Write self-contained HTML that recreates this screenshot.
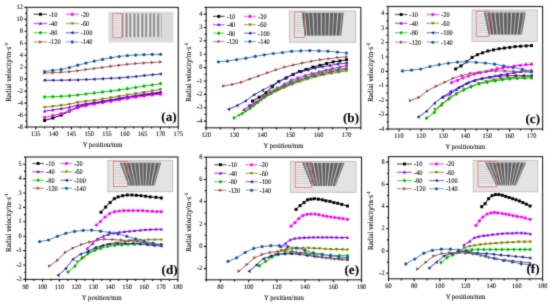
<!DOCTYPE html>
<html><head><meta charset="utf-8"><style>
html,body{margin:0;padding:0;background:#fff;width:550px;height:306px;overflow:hidden}
svg{display:block}
text{text-rendering:geometricPrecision;font-family:"Liberation Serif",serif;fill:#000;stroke:#000;stroke-width:0.08px}
</style></head><body>
<svg width="550" height="306" viewBox="0 0 550 306">
<defs><filter id="bl" x="0" y="0" width="550" height="306" filterUnits="userSpaceOnUse" primitiveUnits="userSpaceOnUse" color-interpolation-filters="sRGB"><feConvolveMatrix order="3" kernelMatrix="1 5 1 5 25 5 1 5 1" divisor="49" edgeMode="duplicate"/></filter></defs>
<rect width="550" height="306" fill="#fff"/>
<g filter="url(#bl)">
<rect x="108.50" y="12.00" width="65.00" height="30.30" fill="#dadada" stroke="#ececec" stroke-width="0.8"/>
<rect x="112.90" y="13.60" width="9.00" height="23.40" fill="#ececec"/>
<path d="M122.00,13.60L161.60,13.60L161.60,37.00L122.00,37.00Z" fill="#a2a2a2"/>
<path d="M122.00,12.00H161.60V13.60H122.00Z" fill="#d4d4d4"/>
<path d="M124.38,13.60L124.38,37.00" stroke="#f6f6f6" stroke-width="1.5"/>
<path d="M128.34,13.60L128.34,37.00" stroke="#f6f6f6" stroke-width="1.125"/>
<path d="M132.30,13.60L132.30,37.00" stroke="#f6f6f6" stroke-width="1.5"/>
<path d="M136.26,13.60L136.26,37.00" stroke="#f6f6f6" stroke-width="1.125"/>
<path d="M140.22,13.60L140.22,37.00" stroke="#f6f6f6" stroke-width="1.5"/>
<path d="M144.18,13.60L144.18,37.00" stroke="#f6f6f6" stroke-width="1.125"/>
<path d="M148.14,13.60L148.14,37.00" stroke="#f6f6f6" stroke-width="1.5"/>
<path d="M152.10,13.60L152.10,37.00" stroke="#f6f6f6" stroke-width="1.125"/>
<path d="M156.06,13.60L156.06,37.00" stroke="#f6f6f6" stroke-width="1.5"/>
<path d="M160.02,13.60L160.02,37.00" stroke="#f6f6f6" stroke-width="1.125"/>
<path d="M122.59,13.60L122.59,37.00" stroke="#777777" stroke-width="0.5"/>
<path d="M126.55,13.60L126.55,37.00" stroke="#777777" stroke-width="0.5"/>
<path d="M130.51,13.60L130.51,37.00" stroke="#777777" stroke-width="0.5"/>
<path d="M134.47,13.60L134.47,37.00" stroke="#777777" stroke-width="0.5"/>
<path d="M138.43,13.60L138.43,37.00" stroke="#777777" stroke-width="0.5"/>
<path d="M142.39,13.60L142.39,37.00" stroke="#777777" stroke-width="0.5"/>
<path d="M146.35,13.60L146.35,37.00" stroke="#777777" stroke-width="0.5"/>
<path d="M150.31,13.60L150.31,37.00" stroke="#777777" stroke-width="0.5"/>
<path d="M154.27,13.60L154.27,37.00" stroke="#777777" stroke-width="0.5"/>
<path d="M158.23,13.60L158.23,37.00" stroke="#777777" stroke-width="0.5"/>
<path d="M113.90,15.94H120.40" stroke="#b0b0b0" stroke-width="0.6"/>
<path d="M113.90,18.28H120.40" stroke="#b0b0b0" stroke-width="0.6"/>
<path d="M113.90,20.62H120.40" stroke="#b0b0b0" stroke-width="0.6"/>
<path d="M113.90,22.96H120.40" stroke="#b0b0b0" stroke-width="0.6"/>
<path d="M113.90,25.30H120.40" stroke="#b0b0b0" stroke-width="0.6"/>
<path d="M113.90,27.64H120.40" stroke="#b0b0b0" stroke-width="0.6"/>
<path d="M113.90,29.98H120.40" stroke="#b0b0b0" stroke-width="0.6"/>
<path d="M113.90,32.32H120.40" stroke="#b0b0b0" stroke-width="0.6"/>
<path d="M113.90,34.66H120.40" stroke="#b0b0b0" stroke-width="0.6"/>
<rect x="112.90" y="13.40" width="9.00" height="24.20" fill="none" stroke="#e86060" stroke-width="0.7"/>
<path d="M44.60,120.50L52.88,118.00L61.16,115.10L69.44,111.00L77.72,106.80L86.00,104.50L94.28,103.00L102.56,101.80L110.84,100.40L119.12,99.00L127.40,97.60L135.68,96.30L143.96,95.10L152.24,94.00L160.52,93.00" stroke="#000000" stroke-width="1.0" fill="none" stroke-linejoin="round"/>
<rect x="43.13" y="119.03" width="2.94" height="2.94" fill="#000000"/>
<rect x="51.41" y="116.53" width="2.94" height="2.94" fill="#000000"/>
<rect x="59.69" y="113.63" width="2.94" height="2.94" fill="#000000"/>
<rect x="67.97" y="109.53" width="2.94" height="2.94" fill="#000000"/>
<rect x="76.25" y="105.33" width="2.94" height="2.94" fill="#000000"/>
<rect x="84.53" y="103.03" width="2.94" height="2.94" fill="#000000"/>
<rect x="92.81" y="101.53" width="2.94" height="2.94" fill="#000000"/>
<rect x="101.09" y="100.33" width="2.94" height="2.94" fill="#000000"/>
<rect x="109.37" y="98.93" width="2.94" height="2.94" fill="#000000"/>
<rect x="117.65" y="97.53" width="2.94" height="2.94" fill="#000000"/>
<rect x="125.93" y="96.13" width="2.94" height="2.94" fill="#000000"/>
<rect x="134.21" y="94.83" width="2.94" height="2.94" fill="#000000"/>
<rect x="142.49" y="93.63" width="2.94" height="2.94" fill="#000000"/>
<rect x="150.77" y="92.53" width="2.94" height="2.94" fill="#000000"/>
<rect x="159.05" y="91.53" width="2.94" height="2.94" fill="#000000"/>
<path d="M44.60,117.40L52.88,115.60L61.16,113.60L69.44,111.00L77.72,107.80L86.00,105.70L94.28,104.00L102.56,102.60L110.84,101.30L119.12,99.80L127.40,98.40L135.68,97.20L143.96,95.90L152.24,94.90L160.52,94.20" stroke="#ff00ff" stroke-width="1.0" fill="none" stroke-linejoin="round"/>
<circle cx="44.60" cy="117.40" r="1.60" fill="#ff00ff"/>
<circle cx="52.88" cy="115.60" r="1.60" fill="#ff00ff"/>
<circle cx="61.16" cy="113.60" r="1.60" fill="#ff00ff"/>
<circle cx="69.44" cy="111.00" r="1.60" fill="#ff00ff"/>
<circle cx="77.72" cy="107.80" r="1.60" fill="#ff00ff"/>
<circle cx="86.00" cy="105.70" r="1.60" fill="#ff00ff"/>
<circle cx="94.28" cy="104.00" r="1.60" fill="#ff00ff"/>
<circle cx="102.56" cy="102.60" r="1.60" fill="#ff00ff"/>
<circle cx="110.84" cy="101.30" r="1.60" fill="#ff00ff"/>
<circle cx="119.12" cy="99.80" r="1.60" fill="#ff00ff"/>
<circle cx="127.40" cy="98.40" r="1.60" fill="#ff00ff"/>
<circle cx="135.68" cy="97.20" r="1.60" fill="#ff00ff"/>
<circle cx="143.96" cy="95.90" r="1.60" fill="#ff00ff"/>
<circle cx="152.24" cy="94.90" r="1.60" fill="#ff00ff"/>
<circle cx="160.52" cy="94.20" r="1.60" fill="#ff00ff"/>
<path d="M44.60,111.20L52.88,109.90L61.16,108.70L69.44,107.30L77.72,105.10L86.00,103.80L94.28,102.70L102.56,101.20L110.84,99.80L119.12,98.20L127.40,96.80L135.68,95.50L143.96,94.20L152.24,93.20L160.52,92.00" stroke="#8000ff" stroke-width="1.0" fill="none" stroke-linejoin="round"/>
<path d="M44.60,109.44L46.36,112.48L42.84,112.48Z" fill="#8000ff"/>
<path d="M52.88,108.14L54.64,111.18L51.12,111.18Z" fill="#8000ff"/>
<path d="M61.16,106.94L62.92,109.98L59.40,109.98Z" fill="#8000ff"/>
<path d="M69.44,105.54L71.20,108.58L67.68,108.58Z" fill="#8000ff"/>
<path d="M77.72,103.34L79.48,106.38L75.96,106.38Z" fill="#8000ff"/>
<path d="M86.00,102.04L87.76,105.08L84.24,105.08Z" fill="#8000ff"/>
<path d="M94.28,100.94L96.04,103.98L92.52,103.98Z" fill="#8000ff"/>
<path d="M102.56,99.44L104.32,102.48L100.80,102.48Z" fill="#8000ff"/>
<path d="M110.84,98.04L112.60,101.08L109.08,101.08Z" fill="#8000ff"/>
<path d="M119.12,96.44L120.88,99.48L117.36,99.48Z" fill="#8000ff"/>
<path d="M127.40,95.04L129.16,98.08L125.64,98.08Z" fill="#8000ff"/>
<path d="M135.68,93.74L137.44,96.78L133.92,96.78Z" fill="#8000ff"/>
<path d="M143.96,92.44L145.72,95.48L142.20,95.48Z" fill="#8000ff"/>
<path d="M152.24,91.44L154.00,94.48L150.48,94.48Z" fill="#8000ff"/>
<path d="M160.52,90.24L162.28,93.28L158.76,93.28Z" fill="#8000ff"/>
<path d="M44.60,107.30L52.88,106.30L61.16,105.40L69.44,104.20L77.72,102.40L86.00,101.30L94.28,100.40L102.56,99.00L110.84,97.60L119.12,96.20L127.40,94.90L135.68,93.60L143.96,92.30L152.24,90.90L160.52,89.40" stroke="#808000" stroke-width="1.0" fill="none" stroke-linejoin="round"/>
<path d="M44.60,109.06L46.36,106.02L42.84,106.02Z" fill="#808000"/>
<path d="M52.88,108.06L54.64,105.02L51.12,105.02Z" fill="#808000"/>
<path d="M61.16,107.16L62.92,104.12L59.40,104.12Z" fill="#808000"/>
<path d="M69.44,105.96L71.20,102.92L67.68,102.92Z" fill="#808000"/>
<path d="M77.72,104.16L79.48,101.12L75.96,101.12Z" fill="#808000"/>
<path d="M86.00,103.06L87.76,100.02L84.24,100.02Z" fill="#808000"/>
<path d="M94.28,102.16L96.04,99.12L92.52,99.12Z" fill="#808000"/>
<path d="M102.56,100.76L104.32,97.72L100.80,97.72Z" fill="#808000"/>
<path d="M110.84,99.36L112.60,96.32L109.08,96.32Z" fill="#808000"/>
<path d="M119.12,97.96L120.88,94.92L117.36,94.92Z" fill="#808000"/>
<path d="M127.40,96.66L129.16,93.62L125.64,93.62Z" fill="#808000"/>
<path d="M135.68,95.36L137.44,92.32L133.92,92.32Z" fill="#808000"/>
<path d="M143.96,94.06L145.72,91.02L142.20,91.02Z" fill="#808000"/>
<path d="M152.24,92.66L154.00,89.62L150.48,89.62Z" fill="#808000"/>
<path d="M160.52,91.16L162.28,88.12L158.76,88.12Z" fill="#808000"/>
<path d="M44.60,97.00L52.88,96.70L61.16,96.30L69.44,95.80L77.72,95.00L86.00,94.00L94.28,93.00L102.56,92.00L110.84,91.10L119.12,90.00L127.40,88.70L135.68,87.40L143.96,86.10L152.24,85.00L160.52,83.70" stroke="#00c800" stroke-width="1.0" fill="none" stroke-linejoin="round"/>
<path d="M44.60,94.92L46.36,97.00L44.60,99.08L42.84,97.00Z" fill="#00b000"/>
<path d="M52.88,94.62L54.64,96.70L52.88,98.78L51.12,96.70Z" fill="#00b000"/>
<path d="M61.16,94.22L62.92,96.30L61.16,98.38L59.40,96.30Z" fill="#00b000"/>
<path d="M69.44,93.72L71.20,95.80L69.44,97.88L67.68,95.80Z" fill="#00b000"/>
<path d="M77.72,92.92L79.48,95.00L77.72,97.08L75.96,95.00Z" fill="#00b000"/>
<path d="M86.00,91.92L87.76,94.00L86.00,96.08L84.24,94.00Z" fill="#00b000"/>
<path d="M94.28,90.92L96.04,93.00L94.28,95.08L92.52,93.00Z" fill="#00b000"/>
<path d="M102.56,89.92L104.32,92.00L102.56,94.08L100.80,92.00Z" fill="#00b000"/>
<path d="M110.84,89.02L112.60,91.10L110.84,93.18L109.08,91.10Z" fill="#00b000"/>
<path d="M119.12,87.92L120.88,90.00L119.12,92.08L117.36,90.00Z" fill="#00b000"/>
<path d="M127.40,86.62L129.16,88.70L127.40,90.78L125.64,88.70Z" fill="#00b000"/>
<path d="M135.68,85.32L137.44,87.40L135.68,89.48L133.92,87.40Z" fill="#00b000"/>
<path d="M143.96,84.02L145.72,86.10L143.96,88.18L142.20,86.10Z" fill="#00b000"/>
<path d="M152.24,82.92L154.00,85.00L152.24,87.08L150.48,85.00Z" fill="#00b000"/>
<path d="M160.52,81.62L162.28,83.70L160.52,85.78L158.76,83.70Z" fill="#00b000"/>
<path d="M44.60,80.30L52.88,80.30L61.16,80.20L69.44,80.10L77.72,79.90L86.00,79.60L94.28,79.20L102.56,78.80L110.84,78.30L119.12,77.90L127.40,77.30L135.68,76.50L143.96,75.60L152.24,74.80L160.52,74.00" stroke="#3a3ab0" stroke-width="1.0" fill="none" stroke-linejoin="round"/>
<path d="M42.84,80.30L45.88,78.54L45.88,82.06Z" fill="#1a1a90"/>
<path d="M51.12,80.30L54.16,78.54L54.16,82.06Z" fill="#1a1a90"/>
<path d="M59.40,80.20L62.44,78.44L62.44,81.96Z" fill="#1a1a90"/>
<path d="M67.68,80.10L70.72,78.34L70.72,81.86Z" fill="#1a1a90"/>
<path d="M75.96,79.90L79.00,78.14L79.00,81.66Z" fill="#1a1a90"/>
<path d="M84.24,79.60L87.28,77.84L87.28,81.36Z" fill="#1a1a90"/>
<path d="M92.52,79.20L95.56,77.44L95.56,80.96Z" fill="#1a1a90"/>
<path d="M100.80,78.80L103.84,77.04L103.84,80.56Z" fill="#1a1a90"/>
<path d="M109.08,78.30L112.12,76.54L112.12,80.06Z" fill="#1a1a90"/>
<path d="M117.36,77.90L120.40,76.14L120.40,79.66Z" fill="#1a1a90"/>
<path d="M125.64,77.30L128.68,75.54L128.68,79.06Z" fill="#1a1a90"/>
<path d="M133.92,76.50L136.96,74.74L136.96,78.26Z" fill="#1a1a90"/>
<path d="M142.20,75.60L145.24,73.84L145.24,77.36Z" fill="#1a1a90"/>
<path d="M150.48,74.80L153.52,73.04L153.52,76.56Z" fill="#1a1a90"/>
<path d="M158.76,74.00L161.80,72.24L161.80,75.76Z" fill="#1a1a90"/>
<path d="M44.60,73.10L52.88,72.70L61.16,72.30L69.44,71.70L77.72,70.70L86.00,69.60L94.28,68.50L102.56,67.40L110.84,66.30L119.12,65.30L127.40,64.30L135.68,63.60L143.96,62.90L152.24,62.50L160.52,62.00" stroke="#a06060" stroke-width="1.0" fill="none" stroke-linejoin="round"/>
<path d="M46.36,73.10L43.32,71.34L43.32,74.86Z" fill="#904545"/>
<path d="M54.64,72.70L51.60,70.94L51.60,74.46Z" fill="#904545"/>
<path d="M62.92,72.30L59.88,70.54L59.88,74.06Z" fill="#904545"/>
<path d="M71.20,71.70L68.16,69.94L68.16,73.46Z" fill="#904545"/>
<path d="M79.48,70.70L76.44,68.94L76.44,72.46Z" fill="#904545"/>
<path d="M87.76,69.60L84.72,67.84L84.72,71.36Z" fill="#904545"/>
<path d="M96.04,68.50L93.00,66.74L93.00,70.26Z" fill="#904545"/>
<path d="M104.32,67.40L101.28,65.64L101.28,69.16Z" fill="#904545"/>
<path d="M112.60,66.30L109.56,64.54L109.56,68.06Z" fill="#904545"/>
<path d="M120.88,65.30L117.84,63.54L117.84,67.06Z" fill="#904545"/>
<path d="M129.16,64.30L126.12,62.54L126.12,66.06Z" fill="#904545"/>
<path d="M137.44,63.60L134.40,61.84L134.40,65.36Z" fill="#904545"/>
<path d="M145.72,62.90L142.68,61.14L142.68,64.66Z" fill="#904545"/>
<path d="M154.00,62.50L150.96,60.74L150.96,64.26Z" fill="#904545"/>
<path d="M162.28,62.00L159.24,60.24L159.24,63.76Z" fill="#904545"/>
<path d="M44.60,71.50L52.88,70.40L61.16,69.40L69.44,67.50L77.72,65.20L86.00,63.10L94.28,61.10L102.56,59.40L110.84,57.70L119.12,56.50L127.40,55.60L135.68,55.10L143.96,54.70L152.24,54.40L160.52,54.30" stroke="#4a86c0" stroke-width="1.0" fill="none" stroke-linejoin="round"/>
<circle cx="44.60" cy="71.50" r="1.60" fill="#1c5796"/>
<circle cx="52.88" cy="70.40" r="1.60" fill="#1c5796"/>
<circle cx="61.16" cy="69.40" r="1.60" fill="#1c5796"/>
<circle cx="69.44" cy="67.50" r="1.60" fill="#1c5796"/>
<circle cx="77.72" cy="65.20" r="1.60" fill="#1c5796"/>
<circle cx="86.00" cy="63.10" r="1.60" fill="#1c5796"/>
<circle cx="94.28" cy="61.10" r="1.60" fill="#1c5796"/>
<circle cx="102.56" cy="59.40" r="1.60" fill="#1c5796"/>
<circle cx="110.84" cy="57.70" r="1.60" fill="#1c5796"/>
<circle cx="119.12" cy="56.50" r="1.60" fill="#1c5796"/>
<circle cx="127.40" cy="55.60" r="1.60" fill="#1c5796"/>
<circle cx="135.68" cy="55.10" r="1.60" fill="#1c5796"/>
<circle cx="143.96" cy="54.70" r="1.60" fill="#1c5796"/>
<circle cx="152.24" cy="54.40" r="1.60" fill="#1c5796"/>
<circle cx="160.52" cy="54.30" r="1.60" fill="#1c5796"/>
<path d="M33.70,14.30H47.10" stroke="#000000" stroke-width="1.3" opacity="0.6"/>
<rect x="38.97" y="12.87" width="2.85" height="2.85" fill="#000000"/>
<text transform="translate(48.90,16.70) scale(1,1.1)" font-size="6.4">-10</text>
<path d="M65.70,14.30H78.80" stroke="#ff00ff" stroke-width="1.3" opacity="0.6"/>
<circle cx="72.25" cy="14.30" r="1.55" fill="#ff00ff"/>
<text transform="translate(80.80,16.70) scale(1,1.1)" font-size="6.4">-20</text>
<path d="M33.70,23.50H47.10" stroke="#8000ff" stroke-width="1.3" opacity="0.6"/>
<path d="M40.40,21.79L42.11,24.74L38.70,24.74Z" fill="#8000ff"/>
<text transform="translate(48.90,25.90) scale(1,1.1)" font-size="6.4">-40</text>
<path d="M65.70,23.50H78.80" stroke="#808000" stroke-width="1.3" opacity="0.6"/>
<path d="M72.25,25.21L73.95,22.26L70.55,22.26Z" fill="#808000"/>
<text transform="translate(80.80,25.90) scale(1,1.1)" font-size="6.4">-60</text>
<path d="M33.70,32.70H47.10" stroke="#00c800" stroke-width="1.3" opacity="0.6"/>
<path d="M40.40,30.69L42.11,32.70L40.40,34.72L38.70,32.70Z" fill="#00b000"/>
<text transform="translate(48.90,35.10) scale(1,1.1)" font-size="6.4">-80</text>
<path d="M65.70,32.70H78.80" stroke="#3a3ab0" stroke-width="1.3" opacity="0.6"/>
<path d="M70.55,32.70L73.49,31.00L73.49,34.41Z" fill="#1a1a90"/>
<text transform="translate(80.80,35.10) scale(1,1.1)" font-size="6.4">-100</text>
<path d="M33.70,41.90H47.10" stroke="#a06060" stroke-width="1.3" opacity="0.6"/>
<path d="M42.11,41.90L39.16,40.20L39.16,43.60Z" fill="#904545"/>
<text transform="translate(48.90,44.30) scale(1,1.1)" font-size="6.4">-120</text>
<path d="M65.70,41.90H78.80" stroke="#4a86c0" stroke-width="1.3" opacity="0.6"/>
<circle cx="72.25" cy="41.90" r="1.55" fill="#1c5796"/>
<text transform="translate(80.80,44.30) scale(1,1.1)" font-size="6.4">-140</text>
<rect x="26.80" y="7.40" width="151.50" height="119.60" fill="none" stroke="#2a2a2a" stroke-width="1.15"/>
<path d="M35.71,127.00v2.4M53.54,127.00v2.4M71.36,127.00v2.4M89.18,127.00v2.4M107.01,127.00v2.4M124.83,127.00v2.4M142.65,127.00v2.4M160.48,127.00v2.4M178.30,127.00v2.4M26.80,127.00v1.6M35.71,127.00v1.6M44.62,127.00v1.6M53.54,127.00v1.6M62.45,127.00v1.6M71.36,127.00v1.6M80.27,127.00v1.6M89.18,127.00v1.6M98.09,127.00v1.6M107.01,127.00v1.6M115.92,127.00v1.6M124.83,127.00v1.6M133.74,127.00v1.6M142.65,127.00v1.6M151.56,127.00v1.6M160.48,127.00v1.6M169.39,127.00v1.6M178.30,127.00v1.6M26.80,127.00h-2.4M26.80,115.04h-2.4M26.80,103.08h-2.4M26.80,91.12h-2.4M26.80,79.16h-2.4M26.80,67.20h-2.4M26.80,55.24h-2.4M26.80,43.28h-2.4M26.80,31.32h-2.4M26.80,19.36h-2.4M26.80,7.40h-2.4M26.80,127.00h-1.6M26.80,121.02h-1.6M26.80,115.04h-1.6M26.80,109.06h-1.6M26.80,103.08h-1.6M26.80,97.10h-1.6M26.80,91.12h-1.6M26.80,85.14h-1.6M26.80,79.16h-1.6M26.80,73.18h-1.6M26.80,67.20h-1.6M26.80,61.22h-1.6M26.80,55.24h-1.6M26.80,49.26h-1.6M26.80,43.28h-1.6M26.80,37.30h-1.6M26.80,31.32h-1.6M26.80,25.34h-1.6M26.80,19.36h-1.6M26.80,13.38h-1.6M26.80,7.40h-1.6" stroke="#111" stroke-width="1.1" fill="none"/>
<text transform="translate(35.71,136.40) scale(1,1.08)" font-size="6.4" text-anchor="middle">135</text>
<text transform="translate(53.54,136.40) scale(1,1.08)" font-size="6.4" text-anchor="middle">140</text>
<text transform="translate(71.36,136.40) scale(1,1.08)" font-size="6.4" text-anchor="middle">145</text>
<text transform="translate(89.18,136.40) scale(1,1.08)" font-size="6.4" text-anchor="middle">150</text>
<text transform="translate(107.01,136.40) scale(1,1.08)" font-size="6.4" text-anchor="middle">155</text>
<text transform="translate(124.83,136.40) scale(1,1.08)" font-size="6.4" text-anchor="middle">160</text>
<text transform="translate(142.65,136.40) scale(1,1.08)" font-size="6.4" text-anchor="middle">165</text>
<text transform="translate(160.48,136.40) scale(1,1.08)" font-size="6.4" text-anchor="middle">170</text>
<text transform="translate(178.30,136.40) scale(1,1.08)" font-size="6.4" text-anchor="middle">175</text>
<text transform="translate(23.00,128.60) scale(1,1.08)" font-size="6.4" text-anchor="end">-8</text>
<text transform="translate(23.00,116.64) scale(1,1.08)" font-size="6.4" text-anchor="end">-6</text>
<text transform="translate(23.00,104.68) scale(1,1.08)" font-size="6.4" text-anchor="end">-4</text>
<text transform="translate(23.00,92.72) scale(1,1.08)" font-size="6.4" text-anchor="end">-2</text>
<text transform="translate(23.00,80.76) scale(1,1.08)" font-size="6.4" text-anchor="end">0</text>
<text transform="translate(23.00,68.80) scale(1,1.08)" font-size="6.4" text-anchor="end">2</text>
<text transform="translate(23.00,56.84) scale(1,1.08)" font-size="6.4" text-anchor="end">4</text>
<text transform="translate(23.00,44.88) scale(1,1.08)" font-size="6.4" text-anchor="end">6</text>
<text transform="translate(23.00,32.92) scale(1,1.08)" font-size="6.4" text-anchor="end">8</text>
<text transform="translate(23.00,20.96) scale(1,1.08)" font-size="6.4" text-anchor="end">10</text>
<text transform="translate(23.00,9.00) scale(1,1.08)" font-size="6.4" text-anchor="end">12</text>
<text transform="translate(102.55,147.10) scale(1,1.1)" font-size="6.65" text-anchor="middle">Y position/mm</text>
<text transform="translate(11.00,72.40) rotate(-90) scale(1,1.1)" font-size="7.0" text-anchor="middle">Radial velocity/m·s<tspan dy="-2.6" font-size="4.6">-1</tspan></text>
<text x="176.60" y="121.30" font-size="13.1" font-weight="bold" text-anchor="end">(a)</text>
<rect x="289.30" y="11.00" width="66.40" height="31.20" fill="#e3e3e3" stroke="#b9b9b9" stroke-width="0.8"/>
<rect x="294.20" y="13.00" width="10.40" height="22.50" fill="#ececec"/>
<path d="M302.00,13.00L343.70,13.00L341.10,35.50L304.60,35.50Z" fill="#656565"/>
<path d="M302.00,11.40H343.70V13.00H302.00Z" fill="#c4c4c4"/>
<path d="M304.50,13.00L306.79,35.50" stroke="#d6d6d6" stroke-width="0.9"/>
<path d="M308.67,13.00L310.44,35.50" stroke="#d6d6d6" stroke-width="0.675"/>
<path d="M312.84,13.00L314.09,35.50" stroke="#d6d6d6" stroke-width="0.9"/>
<path d="M317.01,13.00L317.74,35.50" stroke="#d6d6d6" stroke-width="0.675"/>
<path d="M321.18,13.00L321.39,35.50" stroke="#d6d6d6" stroke-width="0.9"/>
<path d="M325.35,13.00L325.04,35.50" stroke="#d6d6d6" stroke-width="0.675"/>
<path d="M329.52,13.00L328.69,35.50" stroke="#d6d6d6" stroke-width="0.9"/>
<path d="M333.69,13.00L332.34,35.50" stroke="#d6d6d6" stroke-width="0.675"/>
<path d="M337.86,13.00L335.99,35.50" stroke="#d6d6d6" stroke-width="0.9"/>
<path d="M342.03,13.00L339.64,35.50" stroke="#d6d6d6" stroke-width="0.675"/>
<path d="M302.63,13.00L305.15,35.50" stroke="#585858" stroke-width="0.5"/>
<path d="M306.80,13.00L308.80,35.50" stroke="#585858" stroke-width="0.5"/>
<path d="M310.97,13.00L312.45,35.50" stroke="#585858" stroke-width="0.5"/>
<path d="M315.14,13.00L316.10,35.50" stroke="#585858" stroke-width="0.5"/>
<path d="M319.31,13.00L319.75,35.50" stroke="#585858" stroke-width="0.5"/>
<path d="M323.48,13.00L323.40,35.50" stroke="#585858" stroke-width="0.5"/>
<path d="M327.65,13.00L327.05,35.50" stroke="#585858" stroke-width="0.5"/>
<path d="M331.82,13.00L330.70,35.50" stroke="#585858" stroke-width="0.5"/>
<path d="M335.99,13.00L334.35,35.50" stroke="#585858" stroke-width="0.5"/>
<path d="M340.16,13.00L338.00,35.50" stroke="#585858" stroke-width="0.5"/>
<path d="M295.20,15.25H303.10" stroke="#b0b0b0" stroke-width="0.6"/>
<path d="M295.20,17.50H303.10" stroke="#b0b0b0" stroke-width="0.6"/>
<path d="M295.20,19.75H303.10" stroke="#b0b0b0" stroke-width="0.6"/>
<path d="M295.20,22.00H303.10" stroke="#b0b0b0" stroke-width="0.6"/>
<path d="M295.20,24.25H303.10" stroke="#b0b0b0" stroke-width="0.6"/>
<path d="M295.20,26.50H303.10" stroke="#b0b0b0" stroke-width="0.6"/>
<path d="M295.20,28.75H303.10" stroke="#b0b0b0" stroke-width="0.6"/>
<path d="M295.20,31.00H303.10" stroke="#b0b0b0" stroke-width="0.6"/>
<path d="M295.20,33.25H303.10" stroke="#b0b0b0" stroke-width="0.6"/>
<rect x="294.20" y="12.00" width="10.40" height="25.30" fill="none" stroke="#e86060" stroke-width="0.7"/>
<path d="M252.50,101.10L259.20,97.20L266.00,92.80L272.40,86.80L278.80,81.50L285.90,78.10L292.80,74.60L299.40,71.50L306.00,69.40L312.90,67.10L320.00,65.30L326.60,63.50L333.20,61.90L339.90,60.90L346.50,59.70" stroke="#000000" stroke-width="1.0" fill="none" stroke-linejoin="round"/>
<rect x="251.03" y="99.63" width="2.94" height="2.94" fill="#000000"/>
<rect x="257.73" y="95.73" width="2.94" height="2.94" fill="#000000"/>
<rect x="264.53" y="91.33" width="2.94" height="2.94" fill="#000000"/>
<rect x="270.93" y="85.33" width="2.94" height="2.94" fill="#000000"/>
<rect x="277.33" y="80.03" width="2.94" height="2.94" fill="#000000"/>
<rect x="284.43" y="76.63" width="2.94" height="2.94" fill="#000000"/>
<rect x="291.33" y="73.13" width="2.94" height="2.94" fill="#000000"/>
<rect x="297.93" y="70.03" width="2.94" height="2.94" fill="#000000"/>
<rect x="304.53" y="67.93" width="2.94" height="2.94" fill="#000000"/>
<rect x="311.43" y="65.63" width="2.94" height="2.94" fill="#000000"/>
<rect x="318.53" y="63.83" width="2.94" height="2.94" fill="#000000"/>
<rect x="325.13" y="62.03" width="2.94" height="2.94" fill="#000000"/>
<rect x="331.73" y="60.43" width="2.94" height="2.94" fill="#000000"/>
<rect x="338.43" y="59.43" width="2.94" height="2.94" fill="#000000"/>
<rect x="345.03" y="58.23" width="2.94" height="2.94" fill="#000000"/>
<path d="M249.20,105.70L256.20,102.00L263.20,96.50L270.20,91.80L277.40,88.10L284.70,84.00L291.30,80.30L297.90,77.80L305.30,75.60L311.90,73.70L319.30,71.90L325.90,70.10L332.50,68.50L339.90,67.10L346.50,65.70" stroke="#ff00ff" stroke-width="1.0" fill="none" stroke-linejoin="round"/>
<circle cx="249.20" cy="105.70" r="1.60" fill="#ff00ff"/>
<circle cx="256.20" cy="102.00" r="1.60" fill="#ff00ff"/>
<circle cx="263.20" cy="96.50" r="1.60" fill="#ff00ff"/>
<circle cx="270.20" cy="91.80" r="1.60" fill="#ff00ff"/>
<circle cx="277.40" cy="88.10" r="1.60" fill="#ff00ff"/>
<circle cx="284.70" cy="84.00" r="1.60" fill="#ff00ff"/>
<circle cx="291.30" cy="80.30" r="1.60" fill="#ff00ff"/>
<circle cx="297.90" cy="77.80" r="1.60" fill="#ff00ff"/>
<circle cx="305.30" cy="75.60" r="1.60" fill="#ff00ff"/>
<circle cx="311.90" cy="73.70" r="1.60" fill="#ff00ff"/>
<circle cx="319.30" cy="71.90" r="1.60" fill="#ff00ff"/>
<circle cx="325.90" cy="70.10" r="1.60" fill="#ff00ff"/>
<circle cx="332.50" cy="68.50" r="1.60" fill="#ff00ff"/>
<circle cx="339.90" cy="67.10" r="1.60" fill="#ff00ff"/>
<circle cx="346.50" cy="65.70" r="1.60" fill="#ff00ff"/>
<path d="M244.00,109.60L250.50,105.90L257.00,102.30L264.00,97.50L271.00,93.50L278.00,89.50L285.00,86.00L292.00,83.00L299.00,80.50L306.50,78.00L314.00,75.80L322.00,73.80L330.00,72.00L338.00,70.50L346.50,69.30" stroke="#8000ff" stroke-width="1.0" fill="none" stroke-linejoin="round"/>
<path d="M244.00,107.84L245.76,110.88L242.24,110.88Z" fill="#8000ff"/>
<path d="M250.50,104.14L252.26,107.18L248.74,107.18Z" fill="#8000ff"/>
<path d="M257.00,100.54L258.76,103.58L255.24,103.58Z" fill="#8000ff"/>
<path d="M264.00,95.74L265.76,98.78L262.24,98.78Z" fill="#8000ff"/>
<path d="M271.00,91.74L272.76,94.78L269.24,94.78Z" fill="#8000ff"/>
<path d="M278.00,87.74L279.76,90.78L276.24,90.78Z" fill="#8000ff"/>
<path d="M285.00,84.24L286.76,87.28L283.24,87.28Z" fill="#8000ff"/>
<path d="M292.00,81.24L293.76,84.28L290.24,84.28Z" fill="#8000ff"/>
<path d="M299.00,78.74L300.76,81.78L297.24,81.78Z" fill="#8000ff"/>
<path d="M306.50,76.24L308.26,79.28L304.74,79.28Z" fill="#8000ff"/>
<path d="M314.00,74.04L315.76,77.08L312.24,77.08Z" fill="#8000ff"/>
<path d="M322.00,72.04L323.76,75.08L320.24,75.08Z" fill="#8000ff"/>
<path d="M330.00,70.24L331.76,73.28L328.24,73.28Z" fill="#8000ff"/>
<path d="M338.00,68.74L339.76,71.78L336.24,71.78Z" fill="#8000ff"/>
<path d="M346.50,67.54L348.26,70.58L344.74,70.58Z" fill="#8000ff"/>
<path d="M239.20,115.30L246.40,111.10L254.00,105.90L261.40,100.00L269.20,94.80L276.60,91.00L284.70,87.60L292.10,84.40L300.10,81.50L307.90,79.00L315.90,76.80L323.70,74.90L331.50,73.40L339.10,72.20L346.50,70.90" stroke="#808000" stroke-width="1.0" fill="none" stroke-linejoin="round"/>
<path d="M239.20,117.06L240.96,114.02L237.44,114.02Z" fill="#808000"/>
<path d="M246.40,112.86L248.16,109.82L244.64,109.82Z" fill="#808000"/>
<path d="M254.00,107.66L255.76,104.62L252.24,104.62Z" fill="#808000"/>
<path d="M261.40,101.76L263.16,98.72L259.64,98.72Z" fill="#808000"/>
<path d="M269.20,96.56L270.96,93.52L267.44,93.52Z" fill="#808000"/>
<path d="M276.60,92.76L278.36,89.72L274.84,89.72Z" fill="#808000"/>
<path d="M284.70,89.36L286.46,86.32L282.94,86.32Z" fill="#808000"/>
<path d="M292.10,86.16L293.86,83.12L290.34,83.12Z" fill="#808000"/>
<path d="M300.10,83.26L301.86,80.22L298.34,80.22Z" fill="#808000"/>
<path d="M307.90,80.76L309.66,77.72L306.14,77.72Z" fill="#808000"/>
<path d="M315.90,78.56L317.66,75.52L314.14,75.52Z" fill="#808000"/>
<path d="M323.70,76.66L325.46,73.62L321.94,73.62Z" fill="#808000"/>
<path d="M331.50,75.16L333.26,72.12L329.74,72.12Z" fill="#808000"/>
<path d="M339.10,73.96L340.86,70.92L337.34,70.92Z" fill="#808000"/>
<path d="M346.50,72.66L348.26,69.62L344.74,69.62Z" fill="#808000"/>
<path d="M234.00,117.90L242.20,113.50L250.00,108.30L258.10,101.90L266.20,95.50L274.50,90.50L282.90,86.30L290.30,82.60L297.90,79.60L306.00,77.10L314.10,74.60L322.20,72.40L330.30,70.40L338.40,69.30L346.50,68.20" stroke="#00c800" stroke-width="1.0" fill="none" stroke-linejoin="round"/>
<path d="M234.00,115.82L235.76,117.90L234.00,119.98L232.24,117.90Z" fill="#00b000"/>
<path d="M242.20,111.42L243.96,113.50L242.20,115.58L240.44,113.50Z" fill="#00b000"/>
<path d="M250.00,106.22L251.76,108.30L250.00,110.38L248.24,108.30Z" fill="#00b000"/>
<path d="M258.10,99.82L259.86,101.90L258.10,103.98L256.34,101.90Z" fill="#00b000"/>
<path d="M266.20,93.42L267.96,95.50L266.20,97.58L264.44,95.50Z" fill="#00b000"/>
<path d="M274.50,88.42L276.26,90.50L274.50,92.58L272.74,90.50Z" fill="#00b000"/>
<path d="M282.90,84.22L284.66,86.30L282.90,88.38L281.14,86.30Z" fill="#00b000"/>
<path d="M290.30,80.52L292.06,82.60L290.30,84.68L288.54,82.60Z" fill="#00b000"/>
<path d="M297.90,77.52L299.66,79.60L297.90,81.68L296.14,79.60Z" fill="#00b000"/>
<path d="M306.00,75.02L307.76,77.10L306.00,79.18L304.24,77.10Z" fill="#00b000"/>
<path d="M314.10,72.52L315.86,74.60L314.10,76.68L312.34,74.60Z" fill="#00b000"/>
<path d="M322.20,70.32L323.96,72.40L322.20,74.48L320.44,72.40Z" fill="#00b000"/>
<path d="M330.30,68.32L332.06,70.40L330.30,72.48L328.54,70.40Z" fill="#00b000"/>
<path d="M338.40,67.22L340.16,69.30L338.40,71.38L336.64,69.30Z" fill="#00b000"/>
<path d="M346.50,66.12L348.26,68.20L346.50,70.28L344.74,68.20Z" fill="#00b000"/>
<path d="M228.70,109.20L237.20,105.50L245.50,101.10L254.00,94.80L262.70,90.20L271.30,85.80L278.80,81.50L286.20,77.50L293.50,74.10L300.90,71.90L307.90,70.10L314.90,68.20L322.20,66.80L329.60,65.60L337.60,64.10L346.50,63.10" stroke="#3a3ab0" stroke-width="1.0" fill="none" stroke-linejoin="round"/>
<path d="M226.94,109.20L229.98,107.44L229.98,110.96Z" fill="#1a1a90"/>
<path d="M235.44,105.50L238.48,103.74L238.48,107.26Z" fill="#1a1a90"/>
<path d="M243.74,101.10L246.78,99.34L246.78,102.86Z" fill="#1a1a90"/>
<path d="M252.24,94.80L255.28,93.04L255.28,96.56Z" fill="#1a1a90"/>
<path d="M260.94,90.20L263.98,88.44L263.98,91.96Z" fill="#1a1a90"/>
<path d="M269.54,85.80L272.58,84.04L272.58,87.56Z" fill="#1a1a90"/>
<path d="M277.04,81.50L280.08,79.74L280.08,83.26Z" fill="#1a1a90"/>
<path d="M284.44,77.50L287.48,75.74L287.48,79.26Z" fill="#1a1a90"/>
<path d="M291.74,74.10L294.78,72.34L294.78,75.86Z" fill="#1a1a90"/>
<path d="M299.14,71.90L302.18,70.14L302.18,73.66Z" fill="#1a1a90"/>
<path d="M306.14,70.10L309.18,68.34L309.18,71.86Z" fill="#1a1a90"/>
<path d="M313.14,68.20L316.18,66.44L316.18,69.96Z" fill="#1a1a90"/>
<path d="M320.44,66.80L323.48,65.04L323.48,68.56Z" fill="#1a1a90"/>
<path d="M327.84,65.60L330.88,63.84L330.88,67.36Z" fill="#1a1a90"/>
<path d="M335.84,64.10L338.88,62.34L338.88,65.86Z" fill="#1a1a90"/>
<path d="M344.74,63.10L347.78,61.34L347.78,64.86Z" fill="#1a1a90"/>
<path d="M223.40,85.90L232.50,84.40L241.20,82.30L249.90,78.90L258.60,76.00L267.40,72.80L276.10,69.80L284.70,67.10L293.50,65.00L302.40,63.10L311.50,61.30L320.30,59.70L328.80,58.70L337.60,57.50L346.50,56.80" stroke="#a06060" stroke-width="1.0" fill="none" stroke-linejoin="round"/>
<path d="M225.16,85.90L222.12,84.14L222.12,87.66Z" fill="#904545"/>
<path d="M234.26,84.40L231.22,82.64L231.22,86.16Z" fill="#904545"/>
<path d="M242.96,82.30L239.92,80.54L239.92,84.06Z" fill="#904545"/>
<path d="M251.66,78.90L248.62,77.14L248.62,80.66Z" fill="#904545"/>
<path d="M260.36,76.00L257.32,74.24L257.32,77.76Z" fill="#904545"/>
<path d="M269.16,72.80L266.12,71.04L266.12,74.56Z" fill="#904545"/>
<path d="M277.86,69.80L274.82,68.04L274.82,71.56Z" fill="#904545"/>
<path d="M286.46,67.10L283.42,65.34L283.42,68.86Z" fill="#904545"/>
<path d="M295.26,65.00L292.22,63.24L292.22,66.76Z" fill="#904545"/>
<path d="M304.16,63.10L301.12,61.34L301.12,64.86Z" fill="#904545"/>
<path d="M313.26,61.30L310.22,59.54L310.22,63.06Z" fill="#904545"/>
<path d="M322.06,59.70L319.02,57.94L319.02,61.46Z" fill="#904545"/>
<path d="M330.56,58.70L327.52,56.94L327.52,60.46Z" fill="#904545"/>
<path d="M339.36,57.50L336.32,55.74L336.32,59.26Z" fill="#904545"/>
<path d="M348.26,56.80L345.22,55.04L345.22,58.56Z" fill="#904545"/>
<path d="M218.40,61.80L227.50,61.10L236.60,59.60L245.90,58.20L255.10,56.40L264.30,54.80L273.30,53.50L282.50,52.50L291.60,51.30L300.80,50.90L309.80,50.60L319.00,50.90L328.00,51.20L337.50,52.10L346.50,53.10" stroke="#4a86c0" stroke-width="1.0" fill="none" stroke-linejoin="round"/>
<circle cx="218.40" cy="61.80" r="1.60" fill="#1c5796"/>
<circle cx="227.50" cy="61.10" r="1.60" fill="#1c5796"/>
<circle cx="236.60" cy="59.60" r="1.60" fill="#1c5796"/>
<circle cx="245.90" cy="58.20" r="1.60" fill="#1c5796"/>
<circle cx="255.10" cy="56.40" r="1.60" fill="#1c5796"/>
<circle cx="264.30" cy="54.80" r="1.60" fill="#1c5796"/>
<circle cx="273.30" cy="53.50" r="1.60" fill="#1c5796"/>
<circle cx="282.50" cy="52.50" r="1.60" fill="#1c5796"/>
<circle cx="291.60" cy="51.30" r="1.60" fill="#1c5796"/>
<circle cx="300.80" cy="50.90" r="1.60" fill="#1c5796"/>
<circle cx="309.80" cy="50.60" r="1.60" fill="#1c5796"/>
<circle cx="319.00" cy="50.90" r="1.60" fill="#1c5796"/>
<circle cx="328.00" cy="51.20" r="1.60" fill="#1c5796"/>
<circle cx="337.50" cy="52.10" r="1.60" fill="#1c5796"/>
<circle cx="346.50" cy="53.10" r="1.60" fill="#1c5796"/>
<path d="M213.00,16.40H224.60" stroke="#000000" stroke-width="1.3" opacity="0.6"/>
<rect x="217.37" y="14.97" width="2.85" height="2.85" fill="#000000"/>
<text transform="translate(226.80,18.80) scale(1,1.1)" font-size="6.4">-10</text>
<path d="M244.00,16.40H255.90" stroke="#ff00ff" stroke-width="1.3" opacity="0.6"/>
<circle cx="249.95" cy="16.40" r="1.55" fill="#ff00ff"/>
<text transform="translate(258.10,18.80) scale(1,1.1)" font-size="6.4">-20</text>
<path d="M213.00,24.70H224.60" stroke="#8000ff" stroke-width="1.3" opacity="0.6"/>
<path d="M218.80,22.99L220.51,25.94L217.09,25.94Z" fill="#8000ff"/>
<text transform="translate(226.80,27.10) scale(1,1.1)" font-size="6.4">-40</text>
<path d="M244.00,24.70H255.90" stroke="#808000" stroke-width="1.3" opacity="0.6"/>
<path d="M249.95,26.41L251.66,23.46L248.24,23.46Z" fill="#808000"/>
<text transform="translate(258.10,27.10) scale(1,1.1)" font-size="6.4">-60</text>
<path d="M213.00,33.20H224.60" stroke="#00c800" stroke-width="1.3" opacity="0.6"/>
<path d="M218.80,31.19L220.51,33.20L218.80,35.22L217.09,33.20Z" fill="#00b000"/>
<text transform="translate(226.80,35.60) scale(1,1.1)" font-size="6.4">-80</text>
<path d="M244.00,33.20H255.90" stroke="#3a3ab0" stroke-width="1.3" opacity="0.6"/>
<path d="M248.24,33.20L251.19,31.50L251.19,34.91Z" fill="#1a1a90"/>
<text transform="translate(258.10,35.60) scale(1,1.1)" font-size="6.4">-100</text>
<path d="M213.00,41.50H224.60" stroke="#a06060" stroke-width="1.3" opacity="0.6"/>
<path d="M220.51,41.50L217.56,39.80L217.56,43.20Z" fill="#904545"/>
<text transform="translate(226.80,43.90) scale(1,1.1)" font-size="6.4">-120</text>
<path d="M244.00,41.50H255.90" stroke="#4a86c0" stroke-width="1.3" opacity="0.6"/>
<circle cx="249.95" cy="41.50" r="1.55" fill="#1c5796"/>
<text transform="translate(258.10,43.90) scale(1,1.1)" font-size="6.4">-140</text>
<rect x="206.20" y="7.40" width="154.60" height="120.40" fill="none" stroke="#2a2a2a" stroke-width="1.15"/>
<path d="M206.20,127.80v2.4M234.31,127.80v2.4M262.42,127.80v2.4M290.53,127.80v2.4M318.64,127.80v2.4M346.75,127.80v2.4M206.20,127.80v1.6M220.25,127.80v1.6M234.31,127.80v1.6M248.36,127.80v1.6M262.42,127.80v1.6M276.47,127.80v1.6M290.53,127.80v1.6M304.58,127.80v1.6M318.64,127.80v1.6M332.69,127.80v1.6M346.75,127.80v1.6M360.80,127.80v1.6M206.20,121.11h-2.4M206.20,107.73h-2.4M206.20,94.36h-2.4M206.20,80.98h-2.4M206.20,67.60h-2.4M206.20,54.22h-2.4M206.20,40.84h-2.4M206.20,27.47h-2.4M206.20,14.09h-2.4M206.20,127.80h-1.6M206.20,121.11h-1.6M206.20,114.42h-1.6M206.20,107.73h-1.6M206.20,101.04h-1.6M206.20,94.36h-1.6M206.20,87.67h-1.6M206.20,80.98h-1.6M206.20,74.29h-1.6M206.20,67.60h-1.6M206.20,60.91h-1.6M206.20,54.22h-1.6M206.20,47.53h-1.6M206.20,40.84h-1.6M206.20,34.16h-1.6M206.20,27.47h-1.6M206.20,20.78h-1.6M206.20,14.09h-1.6M206.20,7.40h-1.6" stroke="#111" stroke-width="1.1" fill="none"/>
<text transform="translate(206.20,136.70) scale(1,1.08)" font-size="6.4" text-anchor="middle">120</text>
<text transform="translate(234.31,136.70) scale(1,1.08)" font-size="6.4" text-anchor="middle">130</text>
<text transform="translate(262.42,136.70) scale(1,1.08)" font-size="6.4" text-anchor="middle">140</text>
<text transform="translate(290.53,136.70) scale(1,1.08)" font-size="6.4" text-anchor="middle">150</text>
<text transform="translate(318.64,136.70) scale(1,1.08)" font-size="6.4" text-anchor="middle">160</text>
<text transform="translate(346.75,136.70) scale(1,1.08)" font-size="6.4" text-anchor="middle">170</text>
<text transform="translate(202.40,122.71) scale(1,1.08)" font-size="6.4" text-anchor="end">-4</text>
<text transform="translate(202.40,109.33) scale(1,1.08)" font-size="6.4" text-anchor="end">-3</text>
<text transform="translate(202.40,95.96) scale(1,1.08)" font-size="6.4" text-anchor="end">-2</text>
<text transform="translate(202.40,82.58) scale(1,1.08)" font-size="6.4" text-anchor="end">-1</text>
<text transform="translate(202.40,69.20) scale(1,1.08)" font-size="6.4" text-anchor="end">0</text>
<text transform="translate(202.40,55.82) scale(1,1.08)" font-size="6.4" text-anchor="end">1</text>
<text transform="translate(202.40,42.44) scale(1,1.08)" font-size="6.4" text-anchor="end">2</text>
<text transform="translate(202.40,29.07) scale(1,1.08)" font-size="6.4" text-anchor="end">3</text>
<text transform="translate(202.40,15.69) scale(1,1.08)" font-size="6.4" text-anchor="end">4</text>
<text transform="translate(283.50,147.90) scale(1,1.1)" font-size="6.65" text-anchor="middle">Y position/mm</text>
<text transform="translate(190.80,72.40) rotate(-90) scale(1,1.1)" font-size="7.0" text-anchor="middle">Radial velocity/m·s<tspan dy="-2.6" font-size="4.6">-1</tspan></text>
<text x="359.00" y="122.20" font-size="13.1" font-weight="bold" text-anchor="end">(b)</text>
<rect x="472.00" y="10.00" width="65.30" height="31.60" fill="#e3e3e3" stroke="#b9b9b9" stroke-width="0.8"/>
<rect x="476.20" y="12.40" width="12.80" height="22.20" fill="#ececec"/>
<path d="M484.00,12.40L525.70,12.40L521.80,34.60L488.60,34.60Z" fill="#656565"/>
<path d="M484.00,10.80H525.70V12.40H484.00Z" fill="#c4c4c4"/>
<path d="M486.50,12.40L490.59,34.60" stroke="#d6d6d6" stroke-width="0.9"/>
<path d="M490.67,12.40L493.91,34.60" stroke="#d6d6d6" stroke-width="0.675"/>
<path d="M494.84,12.40L497.23,34.60" stroke="#d6d6d6" stroke-width="0.9"/>
<path d="M499.01,12.40L500.55,34.60" stroke="#d6d6d6" stroke-width="0.675"/>
<path d="M503.18,12.40L503.87,34.60" stroke="#d6d6d6" stroke-width="0.9"/>
<path d="M507.35,12.40L507.19,34.60" stroke="#d6d6d6" stroke-width="0.675"/>
<path d="M511.52,12.40L510.51,34.60" stroke="#d6d6d6" stroke-width="0.9"/>
<path d="M515.69,12.40L513.83,34.60" stroke="#d6d6d6" stroke-width="0.675"/>
<path d="M519.86,12.40L517.15,34.60" stroke="#d6d6d6" stroke-width="0.9"/>
<path d="M524.03,12.40L520.47,34.60" stroke="#d6d6d6" stroke-width="0.675"/>
<path d="M484.63,12.40L489.10,34.60" stroke="#585858" stroke-width="0.5"/>
<path d="M488.80,12.40L492.42,34.60" stroke="#585858" stroke-width="0.5"/>
<path d="M492.97,12.40L495.74,34.60" stroke="#585858" stroke-width="0.5"/>
<path d="M497.14,12.40L499.06,34.60" stroke="#585858" stroke-width="0.5"/>
<path d="M501.31,12.40L502.38,34.60" stroke="#585858" stroke-width="0.5"/>
<path d="M505.48,12.40L505.70,34.60" stroke="#585858" stroke-width="0.5"/>
<path d="M509.65,12.40L509.02,34.60" stroke="#585858" stroke-width="0.5"/>
<path d="M513.82,12.40L512.34,34.60" stroke="#585858" stroke-width="0.5"/>
<path d="M517.99,12.40L515.66,34.60" stroke="#585858" stroke-width="0.5"/>
<path d="M522.16,12.40L518.98,34.60" stroke="#585858" stroke-width="0.5"/>
<path d="M477.20,14.62H487.50" stroke="#b0b0b0" stroke-width="0.6"/>
<path d="M477.20,16.84H487.50" stroke="#b0b0b0" stroke-width="0.6"/>
<path d="M477.20,19.06H487.50" stroke="#b0b0b0" stroke-width="0.6"/>
<path d="M477.20,21.28H487.50" stroke="#b0b0b0" stroke-width="0.6"/>
<path d="M477.20,23.50H487.50" stroke="#b0b0b0" stroke-width="0.6"/>
<path d="M477.20,25.72H487.50" stroke="#b0b0b0" stroke-width="0.6"/>
<path d="M477.20,27.94H487.50" stroke="#b0b0b0" stroke-width="0.6"/>
<path d="M477.20,30.16H487.50" stroke="#b0b0b0" stroke-width="0.6"/>
<path d="M477.20,32.38H487.50" stroke="#b0b0b0" stroke-width="0.6"/>
<rect x="476.20" y="11.30" width="12.80" height="25.00" fill="none" stroke="#e86060" stroke-width="0.7"/>
<path d="M455.60,69.00L461.00,65.90L466.60,61.80L472.10,57.40L477.40,54.70L482.50,52.80L487.90,51.00L493.50,49.90L499.00,48.80L504.40,48.10L509.70,47.40L515.10,46.60L520.60,46.20L526.20,45.90L531.50,45.60" stroke="#000000" stroke-width="1.0" fill="none" stroke-linejoin="round"/>
<rect x="454.13" y="67.53" width="2.94" height="2.94" fill="#000000"/>
<rect x="459.53" y="64.43" width="2.94" height="2.94" fill="#000000"/>
<rect x="465.13" y="60.33" width="2.94" height="2.94" fill="#000000"/>
<rect x="470.63" y="55.93" width="2.94" height="2.94" fill="#000000"/>
<rect x="475.93" y="53.23" width="2.94" height="2.94" fill="#000000"/>
<rect x="481.03" y="51.33" width="2.94" height="2.94" fill="#000000"/>
<rect x="486.43" y="49.53" width="2.94" height="2.94" fill="#000000"/>
<rect x="492.03" y="48.43" width="2.94" height="2.94" fill="#000000"/>
<rect x="497.53" y="47.33" width="2.94" height="2.94" fill="#000000"/>
<rect x="502.93" y="46.63" width="2.94" height="2.94" fill="#000000"/>
<rect x="508.23" y="45.93" width="2.94" height="2.94" fill="#000000"/>
<rect x="513.63" y="45.13" width="2.94" height="2.94" fill="#000000"/>
<rect x="519.13" y="44.73" width="2.94" height="2.94" fill="#000000"/>
<rect x="524.73" y="44.43" width="2.94" height="2.94" fill="#000000"/>
<rect x="530.03" y="44.13" width="2.94" height="2.94" fill="#000000"/>
<path d="M451.60,82.60L457.50,80.30L463.00,77.80L468.50,76.00L474.50,74.10L480.50,72.70L486.00,71.50L491.50,70.10L497.20,68.70L502.60,67.90L508.40,67.10L514.40,66.10L520.20,65.30L525.90,64.70L531.50,64.20" stroke="#ff00ff" stroke-width="1.0" fill="none" stroke-linejoin="round"/>
<circle cx="451.60" cy="82.60" r="1.60" fill="#ff00ff"/>
<circle cx="457.50" cy="80.30" r="1.60" fill="#ff00ff"/>
<circle cx="463.00" cy="77.80" r="1.60" fill="#ff00ff"/>
<circle cx="468.50" cy="76.00" r="1.60" fill="#ff00ff"/>
<circle cx="474.50" cy="74.10" r="1.60" fill="#ff00ff"/>
<circle cx="480.50" cy="72.70" r="1.60" fill="#ff00ff"/>
<circle cx="486.00" cy="71.50" r="1.60" fill="#ff00ff"/>
<circle cx="491.50" cy="70.10" r="1.60" fill="#ff00ff"/>
<circle cx="497.20" cy="68.70" r="1.60" fill="#ff00ff"/>
<circle cx="502.60" cy="67.90" r="1.60" fill="#ff00ff"/>
<circle cx="508.40" cy="67.10" r="1.60" fill="#ff00ff"/>
<circle cx="514.40" cy="66.10" r="1.60" fill="#ff00ff"/>
<circle cx="520.20" cy="65.30" r="1.60" fill="#ff00ff"/>
<circle cx="525.90" cy="64.70" r="1.60" fill="#ff00ff"/>
<circle cx="531.50" cy="64.20" r="1.60" fill="#ff00ff"/>
<path d="M442.60,97.40L450.00,94.30L456.60,89.60L462.50,85.90L468.40,82.60L475.00,80.00L481.70,78.40L488.60,77.20L495.10,75.90L500.80,74.80L507.30,73.80L513.90,72.70L520.40,71.80L526.10,71.00L531.50,70.30" stroke="#8000ff" stroke-width="1.0" fill="none" stroke-linejoin="round"/>
<path d="M442.60,95.64L444.36,98.68L440.84,98.68Z" fill="#8000ff"/>
<path d="M450.00,92.54L451.76,95.58L448.24,95.58Z" fill="#8000ff"/>
<path d="M456.60,87.84L458.36,90.88L454.84,90.88Z" fill="#8000ff"/>
<path d="M462.50,84.14L464.26,87.18L460.74,87.18Z" fill="#8000ff"/>
<path d="M468.40,80.84L470.16,83.88L466.64,83.88Z" fill="#8000ff"/>
<path d="M475.00,78.24L476.76,81.28L473.24,81.28Z" fill="#8000ff"/>
<path d="M481.70,76.64L483.46,79.68L479.94,79.68Z" fill="#8000ff"/>
<path d="M488.60,75.44L490.36,78.48L486.84,78.48Z" fill="#8000ff"/>
<path d="M495.10,74.14L496.86,77.18L493.34,77.18Z" fill="#8000ff"/>
<path d="M500.80,73.04L502.56,76.08L499.04,76.08Z" fill="#8000ff"/>
<path d="M507.30,72.04L509.06,75.08L505.54,75.08Z" fill="#8000ff"/>
<path d="M513.90,70.94L515.66,73.98L512.14,73.98Z" fill="#8000ff"/>
<path d="M520.40,70.04L522.16,73.08L518.64,73.08Z" fill="#8000ff"/>
<path d="M526.10,69.24L527.86,72.28L524.34,72.28Z" fill="#8000ff"/>
<path d="M531.50,68.54L533.26,71.58L529.74,71.58Z" fill="#8000ff"/>
<path d="M434.90,109.40L442.20,103.50L449.50,98.00L456.80,93.50L464.10,89.60L471.40,86.30L478.70,83.60L486.00,81.50L493.30,79.80L500.60,78.60L507.90,77.80L515.20,77.30L522.50,77.00L531.50,76.80" stroke="#808000" stroke-width="1.0" fill="none" stroke-linejoin="round"/>
<path d="M434.90,111.16L436.66,108.12L433.14,108.12Z" fill="#808000"/>
<path d="M442.20,105.26L443.96,102.22L440.44,102.22Z" fill="#808000"/>
<path d="M449.50,99.76L451.26,96.72L447.74,96.72Z" fill="#808000"/>
<path d="M456.80,95.26L458.56,92.22L455.04,92.22Z" fill="#808000"/>
<path d="M464.10,91.36L465.86,88.32L462.34,88.32Z" fill="#808000"/>
<path d="M471.40,88.06L473.16,85.02L469.64,85.02Z" fill="#808000"/>
<path d="M478.70,85.36L480.46,82.32L476.94,82.32Z" fill="#808000"/>
<path d="M486.00,83.26L487.76,80.22L484.24,80.22Z" fill="#808000"/>
<path d="M493.30,81.56L495.06,78.52L491.54,78.52Z" fill="#808000"/>
<path d="M500.60,80.36L502.36,77.32L498.84,77.32Z" fill="#808000"/>
<path d="M507.90,79.56L509.66,76.52L506.14,76.52Z" fill="#808000"/>
<path d="M515.20,79.06L516.96,76.02L513.44,76.02Z" fill="#808000"/>
<path d="M522.50,78.76L524.26,75.72L520.74,75.72Z" fill="#808000"/>
<path d="M531.50,78.56L533.26,75.52L529.74,75.52Z" fill="#808000"/>
<path d="M426.50,118.20L434.30,112.40L441.60,105.00L449.00,98.80L456.30,94.00L463.70,90.00L471.00,86.80L479.10,83.80L487.20,82.40L495.30,80.90L502.60,79.70L510.00,79.00L517.40,78.50L524.70,78.20L531.50,77.90" stroke="#00c800" stroke-width="1.0" fill="none" stroke-linejoin="round"/>
<path d="M426.50,116.12L428.26,118.20L426.50,120.28L424.74,118.20Z" fill="#00b000"/>
<path d="M434.30,110.32L436.06,112.40L434.30,114.48L432.54,112.40Z" fill="#00b000"/>
<path d="M441.60,102.92L443.36,105.00L441.60,107.08L439.84,105.00Z" fill="#00b000"/>
<path d="M449.00,96.72L450.76,98.80L449.00,100.88L447.24,98.80Z" fill="#00b000"/>
<path d="M456.30,91.92L458.06,94.00L456.30,96.08L454.54,94.00Z" fill="#00b000"/>
<path d="M463.70,87.92L465.46,90.00L463.70,92.08L461.94,90.00Z" fill="#00b000"/>
<path d="M471.00,84.72L472.76,86.80L471.00,88.88L469.24,86.80Z" fill="#00b000"/>
<path d="M479.10,81.72L480.86,83.80L479.10,85.88L477.34,83.80Z" fill="#00b000"/>
<path d="M487.20,80.32L488.96,82.40L487.20,84.48L485.44,82.40Z" fill="#00b000"/>
<path d="M495.30,78.82L497.06,80.90L495.30,82.98L493.54,80.90Z" fill="#00b000"/>
<path d="M502.60,77.62L504.36,79.70L502.60,81.78L500.84,79.70Z" fill="#00b000"/>
<path d="M510.00,76.92L511.76,79.00L510.00,81.08L508.24,79.00Z" fill="#00b000"/>
<path d="M517.40,76.42L519.16,78.50L517.40,80.58L515.64,78.50Z" fill="#00b000"/>
<path d="M524.70,76.12L526.46,78.20L524.70,80.28L522.94,78.20Z" fill="#00b000"/>
<path d="M531.50,75.82L533.26,77.90L531.50,79.98L529.74,77.90Z" fill="#00b000"/>
<path d="M418.40,117.10L426.50,111.30L434.60,103.20L442.60,96.90L450.70,91.80L458.80,87.40L466.20,83.70L474.00,81.00L482.00,78.80L490.00,77.20L499.20,76.20L507.20,75.70L515.50,75.60L523.60,75.60L531.50,75.60" stroke="#3a3ab0" stroke-width="1.0" fill="none" stroke-linejoin="round"/>
<path d="M416.64,117.10L419.68,115.34L419.68,118.86Z" fill="#1a1a90"/>
<path d="M424.74,111.30L427.78,109.54L427.78,113.06Z" fill="#1a1a90"/>
<path d="M432.84,103.20L435.88,101.44L435.88,104.96Z" fill="#1a1a90"/>
<path d="M440.84,96.90L443.88,95.14L443.88,98.66Z" fill="#1a1a90"/>
<path d="M448.94,91.80L451.98,90.04L451.98,93.56Z" fill="#1a1a90"/>
<path d="M457.04,87.40L460.08,85.64L460.08,89.16Z" fill="#1a1a90"/>
<path d="M464.44,83.70L467.48,81.94L467.48,85.46Z" fill="#1a1a90"/>
<path d="M472.24,81.00L475.28,79.24L475.28,82.76Z" fill="#1a1a90"/>
<path d="M480.24,78.80L483.28,77.04L483.28,80.56Z" fill="#1a1a90"/>
<path d="M488.24,77.20L491.28,75.44L491.28,78.96Z" fill="#1a1a90"/>
<path d="M497.44,76.20L500.48,74.44L500.48,77.96Z" fill="#1a1a90"/>
<path d="M505.44,75.70L508.48,73.94L508.48,77.46Z" fill="#1a1a90"/>
<path d="M513.74,75.60L516.78,73.84L516.78,77.36Z" fill="#1a1a90"/>
<path d="M521.84,75.60L524.88,73.84L524.88,77.36Z" fill="#1a1a90"/>
<path d="M529.74,75.60L532.78,73.84L532.78,77.36Z" fill="#1a1a90"/>
<path d="M410.30,100.60L418.80,97.40L427.20,91.00L436.00,86.20L444.90,82.20L453.10,78.20L461.90,75.60L470.50,73.30L478.80,72.40L487.20,71.60L496.00,70.90L504.90,70.90L513.70,71.20L522.50,71.60L531.50,72.30" stroke="#a06060" stroke-width="1.0" fill="none" stroke-linejoin="round"/>
<path d="M412.06,100.60L409.02,98.84L409.02,102.36Z" fill="#904545"/>
<path d="M420.56,97.40L417.52,95.64L417.52,99.16Z" fill="#904545"/>
<path d="M428.96,91.00L425.92,89.24L425.92,92.76Z" fill="#904545"/>
<path d="M437.76,86.20L434.72,84.44L434.72,87.96Z" fill="#904545"/>
<path d="M446.66,82.20L443.62,80.44L443.62,83.96Z" fill="#904545"/>
<path d="M454.86,78.20L451.82,76.44L451.82,79.96Z" fill="#904545"/>
<path d="M463.66,75.60L460.62,73.84L460.62,77.36Z" fill="#904545"/>
<path d="M472.26,73.30L469.22,71.54L469.22,75.06Z" fill="#904545"/>
<path d="M480.56,72.40L477.52,70.64L477.52,74.16Z" fill="#904545"/>
<path d="M488.96,71.60L485.92,69.84L485.92,73.36Z" fill="#904545"/>
<path d="M497.76,70.90L494.72,69.14L494.72,72.66Z" fill="#904545"/>
<path d="M506.66,70.90L503.62,69.14L503.62,72.66Z" fill="#904545"/>
<path d="M515.46,71.20L512.42,69.44L512.42,72.96Z" fill="#904545"/>
<path d="M524.26,71.60L521.22,69.84L521.22,73.36Z" fill="#904545"/>
<path d="M533.26,72.30L530.22,70.54L530.22,74.06Z" fill="#904545"/>
<path d="M402.40,70.90L411.60,70.10L420.70,69.00L430.00,66.50L439.10,64.70L448.40,63.20L457.50,62.10L466.80,61.60L476.20,62.40L485.30,63.10L494.60,64.20L503.70,65.90L512.90,67.40L522.40,69.30L531.50,71.40" stroke="#4a86c0" stroke-width="1.0" fill="none" stroke-linejoin="round"/>
<circle cx="402.40" cy="70.90" r="1.60" fill="#1c5796"/>
<circle cx="411.60" cy="70.10" r="1.60" fill="#1c5796"/>
<circle cx="420.70" cy="69.00" r="1.60" fill="#1c5796"/>
<circle cx="430.00" cy="66.50" r="1.60" fill="#1c5796"/>
<circle cx="439.10" cy="64.70" r="1.60" fill="#1c5796"/>
<circle cx="448.40" cy="63.20" r="1.60" fill="#1c5796"/>
<circle cx="457.50" cy="62.10" r="1.60" fill="#1c5796"/>
<circle cx="466.80" cy="61.60" r="1.60" fill="#1c5796"/>
<circle cx="476.20" cy="62.40" r="1.60" fill="#1c5796"/>
<circle cx="485.30" cy="63.10" r="1.60" fill="#1c5796"/>
<circle cx="494.60" cy="64.20" r="1.60" fill="#1c5796"/>
<circle cx="503.70" cy="65.90" r="1.60" fill="#1c5796"/>
<circle cx="512.90" cy="67.40" r="1.60" fill="#1c5796"/>
<circle cx="522.40" cy="69.30" r="1.60" fill="#1c5796"/>
<circle cx="531.50" cy="71.40" r="1.60" fill="#1c5796"/>
<path d="M395.00,14.50H407.40" stroke="#000000" stroke-width="1.3" opacity="0.6"/>
<rect x="399.77" y="13.07" width="2.85" height="2.85" fill="#000000"/>
<text transform="translate(409.50,16.90) scale(1,1.1)" font-size="6.4">-10</text>
<path d="M426.60,14.50H439.10" stroke="#ff00ff" stroke-width="1.3" opacity="0.6"/>
<circle cx="432.85" cy="14.50" r="1.55" fill="#ff00ff"/>
<text transform="translate(441.10,16.90) scale(1,1.1)" font-size="6.4">-20</text>
<path d="M395.00,23.30H407.40" stroke="#8000ff" stroke-width="1.3" opacity="0.6"/>
<path d="M401.20,21.59L402.90,24.54L399.50,24.54Z" fill="#8000ff"/>
<text transform="translate(409.50,25.70) scale(1,1.1)" font-size="6.4">-40</text>
<path d="M426.60,23.30H439.10" stroke="#808000" stroke-width="1.3" opacity="0.6"/>
<path d="M432.85,25.01L434.56,22.06L431.15,22.06Z" fill="#808000"/>
<text transform="translate(441.10,25.70) scale(1,1.1)" font-size="6.4">-60</text>
<path d="M395.00,32.70H407.40" stroke="#00c800" stroke-width="1.3" opacity="0.6"/>
<path d="M401.20,30.69L402.90,32.70L401.20,34.72L399.50,32.70Z" fill="#00b000"/>
<text transform="translate(409.50,35.10) scale(1,1.1)" font-size="6.4">-80</text>
<path d="M426.60,32.70H439.10" stroke="#3a3ab0" stroke-width="1.3" opacity="0.6"/>
<path d="M431.15,32.70L434.09,31.00L434.09,34.41Z" fill="#1a1a90"/>
<text transform="translate(441.10,35.10) scale(1,1.1)" font-size="6.4">-100</text>
<path d="M395.00,42.20H407.40" stroke="#a06060" stroke-width="1.3" opacity="0.6"/>
<path d="M402.90,42.20L399.96,40.50L399.96,43.91Z" fill="#904545"/>
<text transform="translate(409.50,44.60) scale(1,1.1)" font-size="6.4">-120</text>
<path d="M426.60,42.20H439.10" stroke="#4a86c0" stroke-width="1.3" opacity="0.6"/>
<circle cx="432.85" cy="42.20" r="1.55" fill="#1c5796"/>
<text transform="translate(441.10,44.60) scale(1,1.1)" font-size="6.4">-140</text>
<rect x="388.00" y="6.50" width="154.60" height="122.50" fill="none" stroke="#2a2a2a" stroke-width="1.15"/>
<path d="M399.04,129.00v2.4M421.13,129.00v2.4M443.21,129.00v2.4M465.30,129.00v2.4M487.39,129.00v2.4M509.47,129.00v2.4M531.56,129.00v2.4M388.00,129.00v1.6M399.04,129.00v1.6M410.09,129.00v1.6M421.13,129.00v1.6M432.17,129.00v1.6M443.21,129.00v1.6M454.26,129.00v1.6M465.30,129.00v1.6M476.34,129.00v1.6M487.39,129.00v1.6M498.43,129.00v1.6M509.47,129.00v1.6M520.51,129.00v1.6M531.56,129.00v1.6M542.60,129.00v1.6M388.00,129.00h-2.4M388.00,114.59h-2.4M388.00,100.18h-2.4M388.00,85.76h-2.4M388.00,71.35h-2.4M388.00,56.94h-2.4M388.00,42.53h-2.4M388.00,28.12h-2.4M388.00,13.71h-2.4M388.00,129.00h-1.6M388.00,121.79h-1.6M388.00,114.59h-1.6M388.00,107.38h-1.6M388.00,100.18h-1.6M388.00,92.97h-1.6M388.00,85.76h-1.6M388.00,78.56h-1.6M388.00,71.35h-1.6M388.00,64.15h-1.6M388.00,56.94h-1.6M388.00,49.74h-1.6M388.00,42.53h-1.6M388.00,35.32h-1.6M388.00,28.12h-1.6M388.00,20.91h-1.6M388.00,13.71h-1.6M388.00,6.50h-1.6" stroke="#111" stroke-width="1.1" fill="none"/>
<text transform="translate(399.04,138.30) scale(1,1.08)" font-size="6.4" text-anchor="middle">110</text>
<text transform="translate(421.13,138.30) scale(1,1.08)" font-size="6.4" text-anchor="middle">120</text>
<text transform="translate(443.21,138.30) scale(1,1.08)" font-size="6.4" text-anchor="middle">130</text>
<text transform="translate(465.30,138.30) scale(1,1.08)" font-size="6.4" text-anchor="middle">140</text>
<text transform="translate(487.39,138.30) scale(1,1.08)" font-size="6.4" text-anchor="middle">150</text>
<text transform="translate(509.47,138.30) scale(1,1.08)" font-size="6.4" text-anchor="middle">160</text>
<text transform="translate(531.56,138.30) scale(1,1.08)" font-size="6.4" text-anchor="middle">170</text>
<text transform="translate(384.20,130.60) scale(1,1.08)" font-size="6.4" text-anchor="end">-4</text>
<text transform="translate(384.20,116.19) scale(1,1.08)" font-size="6.4" text-anchor="end">-3</text>
<text transform="translate(384.20,101.78) scale(1,1.08)" font-size="6.4" text-anchor="end">-2</text>
<text transform="translate(384.20,87.36) scale(1,1.08)" font-size="6.4" text-anchor="end">-1</text>
<text transform="translate(384.20,72.95) scale(1,1.08)" font-size="6.4" text-anchor="end">0</text>
<text transform="translate(384.20,58.54) scale(1,1.08)" font-size="6.4" text-anchor="end">1</text>
<text transform="translate(384.20,44.13) scale(1,1.08)" font-size="6.4" text-anchor="end">2</text>
<text transform="translate(384.20,29.72) scale(1,1.08)" font-size="6.4" text-anchor="end">3</text>
<text transform="translate(384.20,15.31) scale(1,1.08)" font-size="6.4" text-anchor="end">4</text>
<text transform="translate(465.30,149.10) scale(1,1.1)" font-size="6.65" text-anchor="middle">Y position/mm</text>
<text transform="translate(373.00,72.40) rotate(-90) scale(1,1.1)" font-size="7.0" text-anchor="middle">Radial velocity/m·s<tspan dy="-2.6" font-size="4.6">-1</tspan></text>
<text x="540.00" y="122.60" font-size="13.1" font-weight="bold" text-anchor="end">(c)</text>
<rect x="107.80" y="160.30" width="64.70" height="31.40" fill="#e3e3e3" stroke="#b9b9b9" stroke-width="0.8"/>
<rect x="113.50" y="163.10" width="13.80" height="22.30" fill="#ececec"/>
<path d="M120.00,163.10L161.00,163.10L154.60,185.40L128.50,185.40Z" fill="#656565"/>
<path d="M120.00,161.50H161.00V163.10H120.00Z" fill="#c4c4c4"/>
<path d="M122.46,163.10L130.07,185.40" stroke="#d6d6d6" stroke-width="0.9"/>
<path d="M126.56,163.10L132.68,185.40" stroke="#d6d6d6" stroke-width="0.675"/>
<path d="M130.66,163.10L135.29,185.40" stroke="#d6d6d6" stroke-width="0.9"/>
<path d="M134.76,163.10L137.90,185.40" stroke="#d6d6d6" stroke-width="0.675"/>
<path d="M138.86,163.10L140.51,185.40" stroke="#d6d6d6" stroke-width="0.9"/>
<path d="M142.96,163.10L143.12,185.40" stroke="#d6d6d6" stroke-width="0.675"/>
<path d="M147.06,163.10L145.73,185.40" stroke="#d6d6d6" stroke-width="0.9"/>
<path d="M151.16,163.10L148.34,185.40" stroke="#d6d6d6" stroke-width="0.675"/>
<path d="M155.26,163.10L150.95,185.40" stroke="#d6d6d6" stroke-width="0.9"/>
<path d="M159.36,163.10L153.56,185.40" stroke="#d6d6d6" stroke-width="0.675"/>
<path d="M120.61,163.10L128.89,185.40" stroke="#585858" stroke-width="0.5"/>
<path d="M124.72,163.10L131.50,185.40" stroke="#585858" stroke-width="0.5"/>
<path d="M128.81,163.10L134.11,185.40" stroke="#585858" stroke-width="0.5"/>
<path d="M132.91,163.10L136.72,185.40" stroke="#585858" stroke-width="0.5"/>
<path d="M137.01,163.10L139.33,185.40" stroke="#585858" stroke-width="0.5"/>
<path d="M141.12,163.10L141.94,185.40" stroke="#585858" stroke-width="0.5"/>
<path d="M145.22,163.10L144.55,185.40" stroke="#585858" stroke-width="0.5"/>
<path d="M149.31,163.10L147.16,185.40" stroke="#585858" stroke-width="0.5"/>
<path d="M153.41,163.10L149.77,185.40" stroke="#585858" stroke-width="0.5"/>
<path d="M157.51,163.10L152.38,185.40" stroke="#585858" stroke-width="0.5"/>
<path d="M114.50,165.33H125.80" stroke="#b0b0b0" stroke-width="0.6"/>
<path d="M114.50,167.56H125.80" stroke="#b0b0b0" stroke-width="0.6"/>
<path d="M114.50,169.79H125.80" stroke="#b0b0b0" stroke-width="0.6"/>
<path d="M114.50,172.02H125.80" stroke="#b0b0b0" stroke-width="0.6"/>
<path d="M114.50,174.25H125.80" stroke="#b0b0b0" stroke-width="0.6"/>
<path d="M114.50,176.48H125.80" stroke="#b0b0b0" stroke-width="0.6"/>
<path d="M114.50,178.71H125.80" stroke="#b0b0b0" stroke-width="0.6"/>
<path d="M114.50,180.94H125.80" stroke="#b0b0b0" stroke-width="0.6"/>
<path d="M114.50,183.17H125.80" stroke="#b0b0b0" stroke-width="0.6"/>
<rect x="113.50" y="161.40" width="13.80" height="25.10" fill="none" stroke="#e86060" stroke-width="0.7"/>
<path d="M101.00,212.20L105.60,207.10L110.10,202.60L114.30,198.70L118.10,196.90L122.70,195.70L127.30,195.00L131.90,195.00L136.40,195.30L141.00,195.70L145.60,196.20L150.10,196.90L155.90,197.30L161.30,198.00" stroke="#000000" stroke-width="1.0" fill="none" stroke-linejoin="round"/>
<rect x="99.53" y="210.73" width="2.94" height="2.94" fill="#000000"/>
<rect x="104.13" y="205.63" width="2.94" height="2.94" fill="#000000"/>
<rect x="108.63" y="201.13" width="2.94" height="2.94" fill="#000000"/>
<rect x="112.83" y="197.23" width="2.94" height="2.94" fill="#000000"/>
<rect x="116.63" y="195.43" width="2.94" height="2.94" fill="#000000"/>
<rect x="121.23" y="194.23" width="2.94" height="2.94" fill="#000000"/>
<rect x="125.83" y="193.53" width="2.94" height="2.94" fill="#000000"/>
<rect x="130.43" y="193.53" width="2.94" height="2.94" fill="#000000"/>
<rect x="134.93" y="193.83" width="2.94" height="2.94" fill="#000000"/>
<rect x="139.53" y="194.23" width="2.94" height="2.94" fill="#000000"/>
<rect x="144.13" y="194.73" width="2.94" height="2.94" fill="#000000"/>
<rect x="148.63" y="195.43" width="2.94" height="2.94" fill="#000000"/>
<rect x="154.43" y="195.83" width="2.94" height="2.94" fill="#000000"/>
<rect x="159.83" y="196.53" width="2.94" height="2.94" fill="#000000"/>
<path d="M96.40,225.00L100.50,221.50L105.10,217.00L109.70,213.50L114.70,211.70L119.30,211.00L123.90,210.60L128.40,210.60L133.00,210.60L138.00,210.60L142.60,210.60L147.20,211.00L152.40,211.30L157.00,211.70L161.30,211.70" stroke="#ff00ff" stroke-width="1.0" fill="none" stroke-linejoin="round"/>
<circle cx="96.40" cy="225.00" r="1.60" fill="#ff00ff"/>
<circle cx="100.50" cy="221.50" r="1.60" fill="#ff00ff"/>
<circle cx="105.10" cy="217.00" r="1.60" fill="#ff00ff"/>
<circle cx="109.70" cy="213.50" r="1.60" fill="#ff00ff"/>
<circle cx="114.70" cy="211.70" r="1.60" fill="#ff00ff"/>
<circle cx="119.30" cy="211.00" r="1.60" fill="#ff00ff"/>
<circle cx="123.90" cy="210.60" r="1.60" fill="#ff00ff"/>
<circle cx="128.40" cy="210.60" r="1.60" fill="#ff00ff"/>
<circle cx="133.00" cy="210.60" r="1.60" fill="#ff00ff"/>
<circle cx="138.00" cy="210.60" r="1.60" fill="#ff00ff"/>
<circle cx="142.60" cy="210.60" r="1.60" fill="#ff00ff"/>
<circle cx="147.20" cy="211.00" r="1.60" fill="#ff00ff"/>
<circle cx="152.40" cy="211.30" r="1.60" fill="#ff00ff"/>
<circle cx="157.00" cy="211.70" r="1.60" fill="#ff00ff"/>
<circle cx="161.30" cy="211.70" r="1.60" fill="#ff00ff"/>
<path d="M87.40,248.40L92.60,243.50L97.50,239.10L103.30,236.30L108.40,234.40L113.50,233.10L119.20,232.30L124.30,231.80L129.40,231.20L134.50,230.80L140.20,230.20L145.30,229.80L150.40,229.50L156.10,229.30L161.30,229.20" stroke="#8000ff" stroke-width="1.0" fill="none" stroke-linejoin="round"/>
<path d="M87.40,246.64L89.16,249.68L85.64,249.68Z" fill="#8000ff"/>
<path d="M92.60,241.74L94.36,244.78L90.84,244.78Z" fill="#8000ff"/>
<path d="M97.50,237.34L99.26,240.38L95.74,240.38Z" fill="#8000ff"/>
<path d="M103.30,234.54L105.06,237.58L101.54,237.58Z" fill="#8000ff"/>
<path d="M108.40,232.64L110.16,235.68L106.64,235.68Z" fill="#8000ff"/>
<path d="M113.50,231.34L115.26,234.38L111.74,234.38Z" fill="#8000ff"/>
<path d="M119.20,230.54L120.96,233.58L117.44,233.58Z" fill="#8000ff"/>
<path d="M124.30,230.04L126.06,233.08L122.54,233.08Z" fill="#8000ff"/>
<path d="M129.40,229.44L131.16,232.48L127.64,232.48Z" fill="#8000ff"/>
<path d="M134.50,229.04L136.26,232.08L132.74,232.08Z" fill="#8000ff"/>
<path d="M140.20,228.44L141.96,231.48L138.44,231.48Z" fill="#8000ff"/>
<path d="M145.30,228.04L147.06,231.08L143.54,231.08Z" fill="#8000ff"/>
<path d="M150.40,227.74L152.16,230.78L148.64,230.78Z" fill="#8000ff"/>
<path d="M156.10,227.54L157.86,230.58L154.34,230.58Z" fill="#8000ff"/>
<path d="M161.30,227.44L163.06,230.48L159.54,230.48Z" fill="#8000ff"/>
<path d="M77.00,261.80L83.80,257.30L89.70,252.40L96.00,249.30L101.50,246.50L107.70,244.20L116.00,242.70L124.30,241.60L131.90,240.60L140.20,240.10L148.50,239.70L154.80,239.70L161.30,239.70" stroke="#808000" stroke-width="1.0" fill="none" stroke-linejoin="round"/>
<path d="M77.00,263.56L78.76,260.52L75.24,260.52Z" fill="#808000"/>
<path d="M83.80,259.06L85.56,256.02L82.04,256.02Z" fill="#808000"/>
<path d="M89.70,254.16L91.46,251.12L87.94,251.12Z" fill="#808000"/>
<path d="M96.00,251.06L97.76,248.02L94.24,248.02Z" fill="#808000"/>
<path d="M101.50,248.26L103.26,245.22L99.74,245.22Z" fill="#808000"/>
<path d="M107.70,245.96L109.46,242.92L105.94,242.92Z" fill="#808000"/>
<path d="M116.00,244.46L117.76,241.42L114.24,241.42Z" fill="#808000"/>
<path d="M124.30,243.36L126.06,240.32L122.54,240.32Z" fill="#808000"/>
<path d="M131.90,242.36L133.66,239.32L130.14,239.32Z" fill="#808000"/>
<path d="M140.20,241.86L141.96,238.82L138.44,238.82Z" fill="#808000"/>
<path d="M148.50,241.46L150.26,238.42L146.74,238.42Z" fill="#808000"/>
<path d="M154.80,241.46L156.56,238.42L153.04,238.42Z" fill="#808000"/>
<path d="M161.30,241.46L163.06,238.42L159.54,238.42Z" fill="#808000"/>
<path d="M68.10,272.00L75.00,266.10L81.90,258.20L87.70,253.70L94.60,250.40L100.70,248.30L107.70,246.50L114.70,245.50L121.70,244.80L128.10,244.40L134.50,244.20L140.80,243.90L147.20,244.20L153.50,244.40L161.30,244.80" stroke="#00c800" stroke-width="1.0" fill="none" stroke-linejoin="round"/>
<path d="M68.10,269.92L69.86,272.00L68.10,274.08L66.34,272.00Z" fill="#00b000"/>
<path d="M75.00,264.02L76.76,266.10L75.00,268.18L73.24,266.10Z" fill="#00b000"/>
<path d="M81.90,256.12L83.66,258.20L81.90,260.28L80.14,258.20Z" fill="#00b000"/>
<path d="M87.70,251.62L89.46,253.70L87.70,255.78L85.94,253.70Z" fill="#00b000"/>
<path d="M94.60,248.32L96.36,250.40L94.60,252.48L92.84,250.40Z" fill="#00b000"/>
<path d="M100.70,246.22L102.46,248.30L100.70,250.38L98.94,248.30Z" fill="#00b000"/>
<path d="M107.70,244.42L109.46,246.50L107.70,248.58L105.94,246.50Z" fill="#00b000"/>
<path d="M114.70,243.42L116.46,245.50L114.70,247.58L112.94,245.50Z" fill="#00b000"/>
<path d="M121.70,242.72L123.46,244.80L121.70,246.88L119.94,244.80Z" fill="#00b000"/>
<path d="M128.10,242.32L129.86,244.40L128.10,246.48L126.34,244.40Z" fill="#00b000"/>
<path d="M134.50,242.12L136.26,244.20L134.50,246.28L132.74,244.20Z" fill="#00b000"/>
<path d="M140.80,241.82L142.56,243.90L140.80,245.98L139.04,243.90Z" fill="#00b000"/>
<path d="M147.20,242.12L148.96,244.20L147.20,246.28L145.44,244.20Z" fill="#00b000"/>
<path d="M153.50,242.32L155.26,244.40L153.50,246.48L151.74,244.40Z" fill="#00b000"/>
<path d="M161.30,242.72L163.06,244.80L161.30,246.88L159.54,244.80Z" fill="#00b000"/>
<path d="M58.30,275.30L65.80,268.60L73.00,259.20L80.50,254.30L87.70,251.40L95.60,247.50L102.60,245.50L109.60,244.20L117.30,243.80L124.90,243.50L132.50,243.50L139.50,243.90L147.20,244.80L154.20,245.50L161.30,246.10" stroke="#3a3ab0" stroke-width="1.0" fill="none" stroke-linejoin="round"/>
<path d="M56.54,275.30L59.58,273.54L59.58,277.06Z" fill="#1a1a90"/>
<path d="M64.04,268.60L67.08,266.84L67.08,270.36Z" fill="#1a1a90"/>
<path d="M71.24,259.20L74.28,257.44L74.28,260.96Z" fill="#1a1a90"/>
<path d="M78.74,254.30L81.78,252.54L81.78,256.06Z" fill="#1a1a90"/>
<path d="M85.94,251.40L88.98,249.64L88.98,253.16Z" fill="#1a1a90"/>
<path d="M93.84,247.50L96.88,245.74L96.88,249.26Z" fill="#1a1a90"/>
<path d="M100.84,245.50L103.88,243.74L103.88,247.26Z" fill="#1a1a90"/>
<path d="M107.84,244.20L110.88,242.44L110.88,245.96Z" fill="#1a1a90"/>
<path d="M115.54,243.80L118.58,242.04L118.58,245.56Z" fill="#1a1a90"/>
<path d="M123.14,243.50L126.18,241.74L126.18,245.26Z" fill="#1a1a90"/>
<path d="M130.74,243.50L133.78,241.74L133.78,245.26Z" fill="#1a1a90"/>
<path d="M137.74,243.90L140.78,242.14L140.78,245.66Z" fill="#1a1a90"/>
<path d="M145.44,244.80L148.48,243.04L148.48,246.56Z" fill="#1a1a90"/>
<path d="M152.44,245.50L155.48,243.74L155.48,247.26Z" fill="#1a1a90"/>
<path d="M159.54,246.10L162.58,244.34L162.58,247.86Z" fill="#1a1a90"/>
<path d="M49.50,266.10L57.40,260.20L65.20,252.40L73.00,248.00L81.50,244.50L89.70,242.00L97.20,240.00L104.50,239.30L112.80,239.50L121.10,240.10L129.40,240.60L137.60,241.60L145.90,242.90L153.50,244.20L161.30,244.80" stroke="#a06060" stroke-width="1.0" fill="none" stroke-linejoin="round"/>
<path d="M51.26,266.10L48.22,264.34L48.22,267.86Z" fill="#904545"/>
<path d="M59.16,260.20L56.12,258.44L56.12,261.96Z" fill="#904545"/>
<path d="M66.96,252.40L63.92,250.64L63.92,254.16Z" fill="#904545"/>
<path d="M74.76,248.00L71.72,246.24L71.72,249.76Z" fill="#904545"/>
<path d="M83.26,244.50L80.22,242.74L80.22,246.26Z" fill="#904545"/>
<path d="M91.46,242.00L88.42,240.24L88.42,243.76Z" fill="#904545"/>
<path d="M98.96,240.00L95.92,238.24L95.92,241.76Z" fill="#904545"/>
<path d="M106.26,239.30L103.22,237.54L103.22,241.06Z" fill="#904545"/>
<path d="M114.56,239.50L111.52,237.74L111.52,241.26Z" fill="#904545"/>
<path d="M122.86,240.10L119.82,238.34L119.82,241.86Z" fill="#904545"/>
<path d="M131.16,240.60L128.12,238.84L128.12,242.36Z" fill="#904545"/>
<path d="M139.36,241.60L136.32,239.84L136.32,243.36Z" fill="#904545"/>
<path d="M147.66,242.90L144.62,241.14L144.62,244.66Z" fill="#904545"/>
<path d="M155.26,244.20L152.22,242.44L152.22,245.96Z" fill="#904545"/>
<path d="M163.06,244.80L160.02,243.04L160.02,246.56Z" fill="#904545"/>
<path d="M39.70,241.60L48.50,240.00L57.40,236.30L65.80,233.30L74.60,231.40L83.20,230.40L91.70,230.20L100.60,231.20L109.60,232.50L117.90,234.00L126.80,236.30L135.50,238.80L144.00,241.40L152.90,243.20L161.30,244.50" stroke="#4a86c0" stroke-width="1.0" fill="none" stroke-linejoin="round"/>
<circle cx="39.70" cy="241.60" r="1.60" fill="#1c5796"/>
<circle cx="48.50" cy="240.00" r="1.60" fill="#1c5796"/>
<circle cx="57.40" cy="236.30" r="1.60" fill="#1c5796"/>
<circle cx="65.80" cy="233.30" r="1.60" fill="#1c5796"/>
<circle cx="74.60" cy="231.40" r="1.60" fill="#1c5796"/>
<circle cx="83.20" cy="230.40" r="1.60" fill="#1c5796"/>
<circle cx="91.70" cy="230.20" r="1.60" fill="#1c5796"/>
<circle cx="100.60" cy="231.20" r="1.60" fill="#1c5796"/>
<circle cx="109.60" cy="232.50" r="1.60" fill="#1c5796"/>
<circle cx="117.90" cy="234.00" r="1.60" fill="#1c5796"/>
<circle cx="126.80" cy="236.30" r="1.60" fill="#1c5796"/>
<circle cx="135.50" cy="238.80" r="1.60" fill="#1c5796"/>
<circle cx="144.00" cy="241.40" r="1.60" fill="#1c5796"/>
<circle cx="152.90" cy="243.20" r="1.60" fill="#1c5796"/>
<circle cx="161.30" cy="244.50" r="1.60" fill="#1c5796"/>
<path d="M32.30,163.50H43.90" stroke="#000000" stroke-width="1.3" opacity="0.6"/>
<rect x="36.67" y="162.07" width="2.85" height="2.85" fill="#000000"/>
<text transform="translate(46.10,165.90) scale(1,1.1)" font-size="6.4">-10</text>
<path d="M60.60,163.50H72.30" stroke="#ff00ff" stroke-width="1.3" opacity="0.6"/>
<circle cx="66.45" cy="163.50" r="1.55" fill="#ff00ff"/>
<text transform="translate(74.20,165.90) scale(1,1.1)" font-size="6.4">-20</text>
<path d="M32.30,171.80H43.90" stroke="#8000ff" stroke-width="1.3" opacity="0.6"/>
<path d="M38.10,170.09L39.80,173.04L36.39,173.04Z" fill="#8000ff"/>
<text transform="translate(46.10,174.20) scale(1,1.1)" font-size="6.4">-40</text>
<path d="M60.60,171.80H72.30" stroke="#808000" stroke-width="1.3" opacity="0.6"/>
<path d="M66.45,173.51L68.16,170.56L64.75,170.56Z" fill="#808000"/>
<text transform="translate(74.20,174.20) scale(1,1.1)" font-size="6.4">-60</text>
<path d="M32.30,180.30H43.90" stroke="#00c800" stroke-width="1.3" opacity="0.6"/>
<path d="M38.10,178.29L39.80,180.30L38.10,182.31L36.39,180.30Z" fill="#00b000"/>
<text transform="translate(46.10,182.70) scale(1,1.1)" font-size="6.4">-80</text>
<path d="M60.60,180.30H72.30" stroke="#3a3ab0" stroke-width="1.3" opacity="0.6"/>
<path d="M64.75,180.30L67.69,178.59L67.69,182.01Z" fill="#1a1a90"/>
<text transform="translate(74.20,182.70) scale(1,1.1)" font-size="6.4">-100</text>
<path d="M32.30,188.30H43.90" stroke="#a06060" stroke-width="1.3" opacity="0.6"/>
<path d="M39.80,188.30L36.86,186.59L36.86,190.01Z" fill="#904545"/>
<text transform="translate(46.10,190.70) scale(1,1.1)" font-size="6.4">-120</text>
<path d="M60.60,188.30H72.30" stroke="#4a86c0" stroke-width="1.3" opacity="0.6"/>
<circle cx="66.45" cy="188.30" r="1.55" fill="#1c5796"/>
<text transform="translate(74.20,190.70) scale(1,1.1)" font-size="6.4">-140</text>
<rect x="25.60" y="157.00" width="152.30" height="122.40" fill="none" stroke="#2a2a2a" stroke-width="1.15"/>
<path d="M25.60,279.40v2.4M42.52,279.40v2.4M59.44,279.40v2.4M76.37,279.40v2.4M93.29,279.40v2.4M110.21,279.40v2.4M127.13,279.40v2.4M144.06,279.40v2.4M160.98,279.40v2.4M177.90,279.40v2.4M25.60,279.40v1.6M34.06,279.40v1.6M42.52,279.40v1.6M50.98,279.40v1.6M59.44,279.40v1.6M67.91,279.40v1.6M76.37,279.40v1.6M84.83,279.40v1.6M93.29,279.40v1.6M101.75,279.40v1.6M110.21,279.40v1.6M118.67,279.40v1.6M127.13,279.40v1.6M135.59,279.40v1.6M144.06,279.40v1.6M152.52,279.40v1.6M160.98,279.40v1.6M169.44,279.40v1.6M177.90,279.40v1.6M25.60,279.40h-2.4M25.60,265.00h-2.4M25.60,250.60h-2.4M25.60,236.20h-2.4M25.60,221.80h-2.4M25.60,207.40h-2.4M25.60,193.00h-2.4M25.60,178.60h-2.4M25.60,164.20h-2.4M25.60,279.40h-1.6M25.60,272.20h-1.6M25.60,265.00h-1.6M25.60,257.80h-1.6M25.60,250.60h-1.6M25.60,243.40h-1.6M25.60,236.20h-1.6M25.60,229.00h-1.6M25.60,221.80h-1.6M25.60,214.60h-1.6M25.60,207.40h-1.6M25.60,200.20h-1.6M25.60,193.00h-1.6M25.60,185.80h-1.6M25.60,178.60h-1.6M25.60,171.40h-1.6M25.60,164.20h-1.6M25.60,157.00h-1.6" stroke="#111" stroke-width="1.1" fill="none"/>
<text transform="translate(25.60,288.60) scale(1,1.08)" font-size="6.4" text-anchor="middle">90</text>
<text transform="translate(42.52,288.60) scale(1,1.08)" font-size="6.4" text-anchor="middle">100</text>
<text transform="translate(59.44,288.60) scale(1,1.08)" font-size="6.4" text-anchor="middle">110</text>
<text transform="translate(76.37,288.60) scale(1,1.08)" font-size="6.4" text-anchor="middle">120</text>
<text transform="translate(93.29,288.60) scale(1,1.08)" font-size="6.4" text-anchor="middle">130</text>
<text transform="translate(110.21,288.60) scale(1,1.08)" font-size="6.4" text-anchor="middle">140</text>
<text transform="translate(127.13,288.60) scale(1,1.08)" font-size="6.4" text-anchor="middle">150</text>
<text transform="translate(144.06,288.60) scale(1,1.08)" font-size="6.4" text-anchor="middle">160</text>
<text transform="translate(160.98,288.60) scale(1,1.08)" font-size="6.4" text-anchor="middle">170</text>
<text transform="translate(177.90,288.60) scale(1,1.08)" font-size="6.4" text-anchor="middle">180</text>
<text transform="translate(21.80,281.00) scale(1,1.08)" font-size="6.4" text-anchor="end">-3</text>
<text transform="translate(21.80,266.60) scale(1,1.08)" font-size="6.4" text-anchor="end">-2</text>
<text transform="translate(21.80,252.20) scale(1,1.08)" font-size="6.4" text-anchor="end">-1</text>
<text transform="translate(21.80,237.80) scale(1,1.08)" font-size="6.4" text-anchor="end">0</text>
<text transform="translate(21.80,223.40) scale(1,1.08)" font-size="6.4" text-anchor="end">1</text>
<text transform="translate(21.80,209.00) scale(1,1.08)" font-size="6.4" text-anchor="end">2</text>
<text transform="translate(21.80,194.60) scale(1,1.08)" font-size="6.4" text-anchor="end">3</text>
<text transform="translate(21.80,180.20) scale(1,1.08)" font-size="6.4" text-anchor="end">4</text>
<text transform="translate(21.80,165.80) scale(1,1.08)" font-size="6.4" text-anchor="end">5</text>
<text transform="translate(101.75,299.50) scale(1,1.1)" font-size="6.65" text-anchor="middle">Y position/mm</text>
<text transform="translate(11.00,222.60) rotate(-90) scale(1,1.1)" font-size="7.0" text-anchor="middle">Radial velocity/m·s<tspan dy="-2.6" font-size="4.6">-1</tspan></text>
<text x="177.60" y="273.60" font-size="13.1" font-weight="bold" text-anchor="end">(d)</text>
<rect x="290.30" y="161.30" width="65.70" height="31.00" fill="#e3e3e3" stroke="#b9b9b9" stroke-width="0.8"/>
<rect x="295.20" y="163.00" width="16.40" height="22.90" fill="#ececec"/>
<path d="M302.30,163.00L344.40,163.00L335.50,185.90L311.60,185.90Z" fill="#656565"/>
<path d="M302.30,161.40H344.40V163.00H302.30Z" fill="#c4c4c4"/>
<path d="M304.83,163.00L313.03,185.90" stroke="#d6d6d6" stroke-width="0.9"/>
<path d="M309.04,163.00L315.42,185.90" stroke="#d6d6d6" stroke-width="0.675"/>
<path d="M313.25,163.00L317.81,185.90" stroke="#d6d6d6" stroke-width="0.9"/>
<path d="M317.46,163.00L320.20,185.90" stroke="#d6d6d6" stroke-width="0.675"/>
<path d="M321.67,163.00L322.59,185.90" stroke="#d6d6d6" stroke-width="0.9"/>
<path d="M325.88,163.00L324.98,185.90" stroke="#d6d6d6" stroke-width="0.675"/>
<path d="M330.09,163.00L327.37,185.90" stroke="#d6d6d6" stroke-width="0.9"/>
<path d="M334.30,163.00L329.76,185.90" stroke="#d6d6d6" stroke-width="0.675"/>
<path d="M338.51,163.00L332.15,185.90" stroke="#d6d6d6" stroke-width="0.9"/>
<path d="M342.72,163.00L334.54,185.90" stroke="#d6d6d6" stroke-width="0.675"/>
<path d="M302.93,163.00L311.96,185.90" stroke="#585858" stroke-width="0.5"/>
<path d="M307.14,163.00L314.35,185.90" stroke="#585858" stroke-width="0.5"/>
<path d="M311.35,163.00L316.74,185.90" stroke="#585858" stroke-width="0.5"/>
<path d="M315.56,163.00L319.13,185.90" stroke="#585858" stroke-width="0.5"/>
<path d="M319.77,163.00L321.52,185.90" stroke="#585858" stroke-width="0.5"/>
<path d="M323.98,163.00L323.91,185.90" stroke="#585858" stroke-width="0.5"/>
<path d="M328.19,163.00L326.30,185.90" stroke="#585858" stroke-width="0.5"/>
<path d="M332.40,163.00L328.69,185.90" stroke="#585858" stroke-width="0.5"/>
<path d="M336.61,163.00L331.08,185.90" stroke="#585858" stroke-width="0.5"/>
<path d="M340.82,163.00L333.47,185.90" stroke="#585858" stroke-width="0.5"/>
<path d="M296.20,165.29H310.10" stroke="#b0b0b0" stroke-width="0.6"/>
<path d="M296.20,167.58H310.10" stroke="#b0b0b0" stroke-width="0.6"/>
<path d="M296.20,169.87H310.10" stroke="#b0b0b0" stroke-width="0.6"/>
<path d="M296.20,172.16H310.10" stroke="#b0b0b0" stroke-width="0.6"/>
<path d="M296.20,174.45H310.10" stroke="#b0b0b0" stroke-width="0.6"/>
<path d="M296.20,176.74H310.10" stroke="#b0b0b0" stroke-width="0.6"/>
<path d="M296.20,179.03H310.10" stroke="#b0b0b0" stroke-width="0.6"/>
<path d="M296.20,181.32H310.10" stroke="#b0b0b0" stroke-width="0.6"/>
<path d="M296.20,183.61H310.10" stroke="#b0b0b0" stroke-width="0.6"/>
<rect x="295.20" y="162.20" width="16.40" height="25.30" fill="none" stroke="#e86060" stroke-width="0.7"/>
<path d="M296.00,209.40L300.10,205.60L304.00,202.60L307.50,199.80L310.90,199.20L314.30,198.70L318.40,199.20L322.30,199.80L325.80,200.80L329.90,201.40L333.80,202.60L337.70,203.30L341.80,204.40L347.50,206.00" stroke="#000000" stroke-width="1.0" fill="none" stroke-linejoin="round"/>
<rect x="294.53" y="207.93" width="2.94" height="2.94" fill="#000000"/>
<rect x="298.63" y="204.13" width="2.94" height="2.94" fill="#000000"/>
<rect x="302.53" y="201.13" width="2.94" height="2.94" fill="#000000"/>
<rect x="306.03" y="198.33" width="2.94" height="2.94" fill="#000000"/>
<rect x="309.43" y="197.73" width="2.94" height="2.94" fill="#000000"/>
<rect x="312.83" y="197.23" width="2.94" height="2.94" fill="#000000"/>
<rect x="316.93" y="197.73" width="2.94" height="2.94" fill="#000000"/>
<rect x="320.83" y="198.33" width="2.94" height="2.94" fill="#000000"/>
<rect x="324.33" y="199.33" width="2.94" height="2.94" fill="#000000"/>
<rect x="328.43" y="199.93" width="2.94" height="2.94" fill="#000000"/>
<rect x="332.33" y="201.13" width="2.94" height="2.94" fill="#000000"/>
<rect x="336.23" y="201.83" width="2.94" height="2.94" fill="#000000"/>
<rect x="340.33" y="202.93" width="2.94" height="2.94" fill="#000000"/>
<rect x="346.03" y="204.53" width="2.94" height="2.94" fill="#000000"/>
<path d="M291.00,226.10L294.90,222.70L298.80,218.60L302.90,215.60L307.00,214.30L310.90,214.00L315.00,214.00L318.90,214.70L323.00,215.60L326.90,216.30L330.80,217.00L334.90,217.50L339.00,218.10L342.90,218.60L347.50,219.30" stroke="#ff00ff" stroke-width="1.0" fill="none" stroke-linejoin="round"/>
<circle cx="291.00" cy="226.10" r="1.60" fill="#ff00ff"/>
<circle cx="294.90" cy="222.70" r="1.60" fill="#ff00ff"/>
<circle cx="298.80" cy="218.60" r="1.60" fill="#ff00ff"/>
<circle cx="302.90" cy="215.60" r="1.60" fill="#ff00ff"/>
<circle cx="307.00" cy="214.30" r="1.60" fill="#ff00ff"/>
<circle cx="310.90" cy="214.00" r="1.60" fill="#ff00ff"/>
<circle cx="315.00" cy="214.00" r="1.60" fill="#ff00ff"/>
<circle cx="318.90" cy="214.70" r="1.60" fill="#ff00ff"/>
<circle cx="323.00" cy="215.60" r="1.60" fill="#ff00ff"/>
<circle cx="326.90" cy="216.30" r="1.60" fill="#ff00ff"/>
<circle cx="330.80" cy="217.00" r="1.60" fill="#ff00ff"/>
<circle cx="334.90" cy="217.50" r="1.60" fill="#ff00ff"/>
<circle cx="339.00" cy="218.10" r="1.60" fill="#ff00ff"/>
<circle cx="342.90" cy="218.60" r="1.60" fill="#ff00ff"/>
<circle cx="347.50" cy="219.30" r="1.60" fill="#ff00ff"/>
<path d="M280.90,246.80L285.50,243.50L290.10,239.90L294.70,238.40L299.60,237.90L304.20,237.60L309.00,237.40L313.50,237.30L318.00,237.30L322.50,237.30L327.00,237.30L331.50,237.30L336.50,237.40L342.00,237.50L347.50,237.50" stroke="#8000ff" stroke-width="1.0" fill="none" stroke-linejoin="round"/>
<path d="M280.90,245.04L282.66,248.08L279.14,248.08Z" fill="#8000ff"/>
<path d="M285.50,241.74L287.26,244.78L283.74,244.78Z" fill="#8000ff"/>
<path d="M290.10,238.14L291.86,241.18L288.34,241.18Z" fill="#8000ff"/>
<path d="M294.70,236.64L296.46,239.68L292.94,239.68Z" fill="#8000ff"/>
<path d="M299.60,236.14L301.36,239.18L297.84,239.18Z" fill="#8000ff"/>
<path d="M304.20,235.84L305.96,238.88L302.44,238.88Z" fill="#8000ff"/>
<path d="M309.00,235.64L310.76,238.68L307.24,238.68Z" fill="#8000ff"/>
<path d="M313.50,235.54L315.26,238.58L311.74,238.58Z" fill="#8000ff"/>
<path d="M318.00,235.54L319.76,238.58L316.24,238.58Z" fill="#8000ff"/>
<path d="M322.50,235.54L324.26,238.58L320.74,238.58Z" fill="#8000ff"/>
<path d="M327.00,235.54L328.76,238.58L325.24,238.58Z" fill="#8000ff"/>
<path d="M331.50,235.54L333.26,238.58L329.74,238.58Z" fill="#8000ff"/>
<path d="M336.50,235.64L338.26,238.68L334.74,238.68Z" fill="#8000ff"/>
<path d="M342.00,235.74L343.76,238.78L340.24,238.78Z" fill="#8000ff"/>
<path d="M347.50,235.74L349.26,238.78L345.74,238.78Z" fill="#8000ff"/>
<path d="M269.20,258.00L275.70,254.40L281.10,250.40L286.50,249.40L292.10,248.70L297.80,248.40L302.90,248.10L308.60,248.10L314.10,248.40L319.50,248.60L325.20,249.00L330.90,249.30L336.60,249.40L342.40,249.60L347.50,249.80" stroke="#808000" stroke-width="1.0" fill="none" stroke-linejoin="round"/>
<path d="M269.20,259.76L270.96,256.72L267.44,256.72Z" fill="#808000"/>
<path d="M275.70,256.16L277.46,253.12L273.94,253.12Z" fill="#808000"/>
<path d="M281.10,252.16L282.86,249.12L279.34,249.12Z" fill="#808000"/>
<path d="M286.50,251.16L288.26,248.12L284.74,248.12Z" fill="#808000"/>
<path d="M292.10,250.46L293.86,247.42L290.34,247.42Z" fill="#808000"/>
<path d="M297.80,250.16L299.56,247.12L296.04,247.12Z" fill="#808000"/>
<path d="M302.90,249.86L304.66,246.82L301.14,246.82Z" fill="#808000"/>
<path d="M308.60,249.86L310.36,246.82L306.84,246.82Z" fill="#808000"/>
<path d="M314.10,250.16L315.86,247.12L312.34,247.12Z" fill="#808000"/>
<path d="M319.50,250.36L321.26,247.32L317.74,247.32Z" fill="#808000"/>
<path d="M325.20,250.76L326.96,247.72L323.44,247.72Z" fill="#808000"/>
<path d="M330.90,251.06L332.66,248.02L329.14,248.02Z" fill="#808000"/>
<path d="M336.60,251.16L338.36,248.12L334.84,248.12Z" fill="#808000"/>
<path d="M342.40,251.36L344.16,248.32L340.64,248.32Z" fill="#808000"/>
<path d="M347.50,251.56L349.26,248.52L345.74,248.52Z" fill="#808000"/>
<path d="M259.40,265.80L265.70,261.30L272.00,256.90L278.30,254.50L284.60,253.60L290.50,253.00L296.50,252.80L305.50,253.10L314.40,253.80L322.60,254.70L330.90,255.40L339.20,255.60L347.50,255.70" stroke="#00c800" stroke-width="1.0" fill="none" stroke-linejoin="round"/>
<path d="M259.40,263.72L261.16,265.80L259.40,267.88L257.64,265.80Z" fill="#00b000"/>
<path d="M265.70,259.22L267.46,261.30L265.70,263.38L263.94,261.30Z" fill="#00b000"/>
<path d="M272.00,254.82L273.76,256.90L272.00,258.98L270.24,256.90Z" fill="#00b000"/>
<path d="M278.30,252.42L280.06,254.50L278.30,256.58L276.54,254.50Z" fill="#00b000"/>
<path d="M284.60,251.52L286.36,253.60L284.60,255.68L282.84,253.60Z" fill="#00b000"/>
<path d="M290.50,250.92L292.26,253.00L290.50,255.08L288.74,253.00Z" fill="#00b000"/>
<path d="M296.50,250.72L298.26,252.80L296.50,254.88L294.74,252.80Z" fill="#00b000"/>
<path d="M305.50,251.02L307.26,253.10L305.50,255.18L303.74,253.10Z" fill="#00b000"/>
<path d="M314.40,251.72L316.16,253.80L314.40,255.88L312.64,253.80Z" fill="#00b000"/>
<path d="M322.60,252.62L324.36,254.70L322.60,256.78L320.84,254.70Z" fill="#00b000"/>
<path d="M330.90,253.32L332.66,255.40L330.90,257.48L329.14,255.40Z" fill="#00b000"/>
<path d="M339.20,253.52L340.96,255.60L339.20,257.68L337.44,255.60Z" fill="#00b000"/>
<path d="M347.50,253.62L349.26,255.70L347.50,257.78L345.74,255.70Z" fill="#00b000"/>
<path d="M249.20,271.20L256.40,264.90L263.60,258.70L270.80,256.00L278.00,254.20L285.00,253.80L291.50,253.80L299.10,254.30L306.70,255.40L314.40,256.40L322.00,257.30L330.30,258.20L338.50,258.90L347.50,259.40" stroke="#3a3ab0" stroke-width="1.0" fill="none" stroke-linejoin="round"/>
<path d="M247.44,271.20L250.48,269.44L250.48,272.96Z" fill="#1a1a90"/>
<path d="M254.64,264.90L257.68,263.14L257.68,266.66Z" fill="#1a1a90"/>
<path d="M261.84,258.70L264.88,256.94L264.88,260.46Z" fill="#1a1a90"/>
<path d="M269.04,256.00L272.08,254.24L272.08,257.76Z" fill="#1a1a90"/>
<path d="M276.24,254.20L279.28,252.44L279.28,255.96Z" fill="#1a1a90"/>
<path d="M283.24,253.80L286.28,252.04L286.28,255.56Z" fill="#1a1a90"/>
<path d="M289.74,253.80L292.78,252.04L292.78,255.56Z" fill="#1a1a90"/>
<path d="M297.34,254.30L300.38,252.54L300.38,256.06Z" fill="#1a1a90"/>
<path d="M304.94,255.40L307.98,253.64L307.98,257.16Z" fill="#1a1a90"/>
<path d="M312.64,256.40L315.68,254.64L315.68,258.16Z" fill="#1a1a90"/>
<path d="M320.24,257.30L323.28,255.54L323.28,259.06Z" fill="#1a1a90"/>
<path d="M328.54,258.20L331.58,256.44L331.58,259.96Z" fill="#1a1a90"/>
<path d="M336.74,258.90L339.78,257.14L339.78,260.66Z" fill="#1a1a90"/>
<path d="M345.74,259.40L348.78,257.64L348.78,261.16Z" fill="#1a1a90"/>
<path d="M238.80,271.20L246.90,264.40L254.60,257.80L262.10,254.50L270.20,252.40L278.00,251.50L285.00,250.90L292.70,251.50L301.00,252.80L309.90,254.70L318.20,256.60L326.50,257.90L334.70,258.90L342.40,259.60L347.50,259.80" stroke="#a06060" stroke-width="1.0" fill="none" stroke-linejoin="round"/>
<path d="M240.56,271.20L237.52,269.44L237.52,272.96Z" fill="#904545"/>
<path d="M248.66,264.40L245.62,262.64L245.62,266.16Z" fill="#904545"/>
<path d="M256.36,257.80L253.32,256.04L253.32,259.56Z" fill="#904545"/>
<path d="M263.86,254.50L260.82,252.74L260.82,256.26Z" fill="#904545"/>
<path d="M271.96,252.40L268.92,250.64L268.92,254.16Z" fill="#904545"/>
<path d="M279.76,251.50L276.72,249.74L276.72,253.26Z" fill="#904545"/>
<path d="M286.76,250.90L283.72,249.14L283.72,252.66Z" fill="#904545"/>
<path d="M294.46,251.50L291.42,249.74L291.42,253.26Z" fill="#904545"/>
<path d="M302.76,252.80L299.72,251.04L299.72,254.56Z" fill="#904545"/>
<path d="M311.66,254.70L308.62,252.94L308.62,256.46Z" fill="#904545"/>
<path d="M319.96,256.60L316.92,254.84L316.92,258.36Z" fill="#904545"/>
<path d="M328.26,257.90L325.22,256.14L325.22,259.66Z" fill="#904545"/>
<path d="M336.46,258.90L333.42,257.14L333.42,260.66Z" fill="#904545"/>
<path d="M344.16,259.60L341.12,257.84L341.12,261.36Z" fill="#904545"/>
<path d="M349.26,259.80L346.22,258.04L346.22,261.56Z" fill="#904545"/>
<path d="M228.00,261.30L236.60,257.80L245.20,252.40L253.70,248.40L262.10,246.60L270.80,245.70L279.20,245.70L287.70,246.60L296.30,248.00L304.80,250.30L313.30,252.80L322.00,254.30L330.30,255.70L338.80,256.90L347.50,257.70" stroke="#4a86c0" stroke-width="1.0" fill="none" stroke-linejoin="round"/>
<circle cx="228.00" cy="261.30" r="1.60" fill="#1c5796"/>
<circle cx="236.60" cy="257.80" r="1.60" fill="#1c5796"/>
<circle cx="245.20" cy="252.40" r="1.60" fill="#1c5796"/>
<circle cx="253.70" cy="248.40" r="1.60" fill="#1c5796"/>
<circle cx="262.10" cy="246.60" r="1.60" fill="#1c5796"/>
<circle cx="270.80" cy="245.70" r="1.60" fill="#1c5796"/>
<circle cx="279.20" cy="245.70" r="1.60" fill="#1c5796"/>
<circle cx="287.70" cy="246.60" r="1.60" fill="#1c5796"/>
<circle cx="296.30" cy="248.00" r="1.60" fill="#1c5796"/>
<circle cx="304.80" cy="250.30" r="1.60" fill="#1c5796"/>
<circle cx="313.30" cy="252.80" r="1.60" fill="#1c5796"/>
<circle cx="322.00" cy="254.30" r="1.60" fill="#1c5796"/>
<circle cx="330.30" cy="255.70" r="1.60" fill="#1c5796"/>
<circle cx="338.80" cy="256.90" r="1.60" fill="#1c5796"/>
<circle cx="347.50" cy="257.70" r="1.60" fill="#1c5796"/>
<path d="M214.40,164.70H226.40" stroke="#000000" stroke-width="1.3" opacity="0.6"/>
<rect x="218.97" y="163.27" width="2.85" height="2.85" fill="#000000"/>
<text transform="translate(228.50,167.10) scale(1,1.1)" font-size="6.4">-10</text>
<path d="M245.60,164.70H257.60" stroke="#ff00ff" stroke-width="1.3" opacity="0.6"/>
<circle cx="251.60" cy="164.70" r="1.55" fill="#ff00ff"/>
<text transform="translate(259.50,167.10) scale(1,1.1)" font-size="6.4">-20</text>
<path d="M214.40,173.30H226.40" stroke="#8000ff" stroke-width="1.3" opacity="0.6"/>
<path d="M220.40,171.59L222.11,174.54L218.69,174.54Z" fill="#8000ff"/>
<text transform="translate(228.50,175.70) scale(1,1.1)" font-size="6.4">-40</text>
<path d="M245.60,173.30H257.60" stroke="#808000" stroke-width="1.3" opacity="0.6"/>
<path d="M251.60,175.01L253.31,172.06L249.90,172.06Z" fill="#808000"/>
<text transform="translate(259.50,175.70) scale(1,1.1)" font-size="6.4">-60</text>
<path d="M214.40,181.70H226.40" stroke="#00c800" stroke-width="1.3" opacity="0.6"/>
<path d="M220.40,179.69L222.11,181.70L220.40,183.71L218.69,181.70Z" fill="#00b000"/>
<text transform="translate(228.50,184.10) scale(1,1.1)" font-size="6.4">-80</text>
<path d="M245.60,181.70H257.60" stroke="#3a3ab0" stroke-width="1.3" opacity="0.6"/>
<path d="M249.90,181.70L252.84,179.99L252.84,183.41Z" fill="#1a1a90"/>
<text transform="translate(259.50,184.10) scale(1,1.1)" font-size="6.4">-100</text>
<path d="M214.40,190.20H226.40" stroke="#a06060" stroke-width="1.3" opacity="0.6"/>
<path d="M222.11,190.20L219.16,188.49L219.16,191.91Z" fill="#904545"/>
<text transform="translate(228.50,192.60) scale(1,1.1)" font-size="6.4">-120</text>
<path d="M245.60,190.20H257.60" stroke="#4a86c0" stroke-width="1.3" opacity="0.6"/>
<circle cx="251.60" cy="190.20" r="1.55" fill="#1c5796"/>
<text transform="translate(259.50,192.60) scale(1,1.1)" font-size="6.4">-140</text>
<rect x="206.30" y="157.20" width="155.20" height="122.60" fill="none" stroke="#2a2a2a" stroke-width="1.15"/>
<path d="M220.41,279.80v2.4M248.63,279.80v2.4M276.85,279.80v2.4M305.06,279.80v2.4M333.28,279.80v2.4M361.50,279.80v2.4M206.30,279.80v1.6M220.41,279.80v1.6M234.52,279.80v1.6M248.63,279.80v1.6M262.74,279.80v1.6M276.85,279.80v1.6M290.95,279.80v1.6M305.06,279.80v1.6M319.17,279.80v1.6M333.28,279.80v1.6M347.39,279.80v1.6M361.50,279.80v1.6M206.30,268.65h-2.4M206.30,246.36h-2.4M206.30,224.07h-2.4M206.30,201.78h-2.4M206.30,179.49h-2.4M206.30,157.20h-2.4M206.30,279.80h-1.6M206.30,268.65h-1.6M206.30,257.51h-1.6M206.30,246.36h-1.6M206.30,235.22h-1.6M206.30,224.07h-1.6M206.30,212.93h-1.6M206.30,201.78h-1.6M206.30,190.64h-1.6M206.30,179.49h-1.6M206.30,168.35h-1.6M206.30,157.20h-1.6" stroke="#111" stroke-width="1.1" fill="none"/>
<text transform="translate(220.41,288.70) scale(1,1.08)" font-size="6.4" text-anchor="middle">80</text>
<text transform="translate(248.63,288.70) scale(1,1.08)" font-size="6.4" text-anchor="middle">100</text>
<text transform="translate(276.85,288.70) scale(1,1.08)" font-size="6.4" text-anchor="middle">120</text>
<text transform="translate(305.06,288.70) scale(1,1.08)" font-size="6.4" text-anchor="middle">140</text>
<text transform="translate(333.28,288.70) scale(1,1.08)" font-size="6.4" text-anchor="middle">160</text>
<text transform="translate(361.50,288.70) scale(1,1.08)" font-size="6.4" text-anchor="middle">180</text>
<text transform="translate(202.50,270.25) scale(1,1.08)" font-size="6.4" text-anchor="end">-2</text>
<text transform="translate(202.50,247.96) scale(1,1.08)" font-size="6.4" text-anchor="end">0</text>
<text transform="translate(202.50,225.67) scale(1,1.08)" font-size="6.4" text-anchor="end">2</text>
<text transform="translate(202.50,203.38) scale(1,1.08)" font-size="6.4" text-anchor="end">4</text>
<text transform="translate(202.50,181.09) scale(1,1.08)" font-size="6.4" text-anchor="end">6</text>
<text transform="translate(202.50,158.80) scale(1,1.08)" font-size="6.4" text-anchor="end">8</text>
<text transform="translate(283.90,299.90) scale(1,1.1)" font-size="6.65" text-anchor="middle">Y position/mm</text>
<text transform="translate(190.80,222.40) rotate(-90) scale(1,1.1)" font-size="7.0" text-anchor="middle">Radial velocity/m·s<tspan dy="-2.6" font-size="4.6">-1</tspan></text>
<text x="359.00" y="273.50" font-size="13.1" font-weight="bold" text-anchor="end">(e)</text>
<rect x="473.20" y="160.30" width="64.60" height="31.50" fill="#e3e3e3" stroke="#b9b9b9" stroke-width="0.8"/>
<rect x="478.00" y="162.60" width="18.20" height="22.60" fill="#ececec"/>
<path d="M485.20,162.60L526.10,162.60L516.10,185.20L496.20,185.20Z" fill="#656565"/>
<path d="M485.20,161.00H526.10V162.60H485.20Z" fill="#c4c4c4"/>
<path d="M487.65,162.60L497.39,185.20" stroke="#d6d6d6" stroke-width="0.9"/>
<path d="M491.74,162.60L499.38,185.20" stroke="#d6d6d6" stroke-width="0.675"/>
<path d="M495.83,162.60L501.37,185.20" stroke="#d6d6d6" stroke-width="0.9"/>
<path d="M499.92,162.60L503.36,185.20" stroke="#d6d6d6" stroke-width="0.675"/>
<path d="M504.01,162.60L505.35,185.20" stroke="#d6d6d6" stroke-width="0.9"/>
<path d="M508.10,162.60L507.34,185.20" stroke="#d6d6d6" stroke-width="0.675"/>
<path d="M512.19,162.60L509.33,185.20" stroke="#d6d6d6" stroke-width="0.9"/>
<path d="M516.28,162.60L511.32,185.20" stroke="#d6d6d6" stroke-width="0.675"/>
<path d="M520.37,162.60L513.31,185.20" stroke="#d6d6d6" stroke-width="0.9"/>
<path d="M524.46,162.60L515.30,185.20" stroke="#d6d6d6" stroke-width="0.675"/>
<path d="M485.81,162.60L496.50,185.20" stroke="#585858" stroke-width="0.5"/>
<path d="M489.90,162.60L498.49,185.20" stroke="#585858" stroke-width="0.5"/>
<path d="M493.99,162.60L500.48,185.20" stroke="#585858" stroke-width="0.5"/>
<path d="M498.08,162.60L502.47,185.20" stroke="#585858" stroke-width="0.5"/>
<path d="M502.17,162.60L504.46,185.20" stroke="#585858" stroke-width="0.5"/>
<path d="M506.26,162.60L506.45,185.20" stroke="#585858" stroke-width="0.5"/>
<path d="M510.35,162.60L508.44,185.20" stroke="#585858" stroke-width="0.5"/>
<path d="M514.44,162.60L510.43,185.20" stroke="#585858" stroke-width="0.5"/>
<path d="M518.53,162.60L512.42,185.20" stroke="#585858" stroke-width="0.5"/>
<path d="M522.62,162.60L514.41,185.20" stroke="#585858" stroke-width="0.5"/>
<path d="M479.00,164.86H494.70" stroke="#b0b0b0" stroke-width="0.6"/>
<path d="M479.00,167.12H494.70" stroke="#b0b0b0" stroke-width="0.6"/>
<path d="M479.00,169.38H494.70" stroke="#b0b0b0" stroke-width="0.6"/>
<path d="M479.00,171.64H494.70" stroke="#b0b0b0" stroke-width="0.6"/>
<path d="M479.00,173.90H494.70" stroke="#b0b0b0" stroke-width="0.6"/>
<path d="M479.00,176.16H494.70" stroke="#b0b0b0" stroke-width="0.6"/>
<path d="M479.00,178.42H494.70" stroke="#b0b0b0" stroke-width="0.6"/>
<path d="M479.00,180.68H494.70" stroke="#b0b0b0" stroke-width="0.6"/>
<path d="M479.00,182.94H494.70" stroke="#b0b0b0" stroke-width="0.6"/>
<rect x="478.00" y="161.20" width="18.20" height="25.70" fill="none" stroke="#e86060" stroke-width="0.7"/>
<path d="M481.70,206.70L485.10,203.70L488.60,198.70L492.00,195.70L495.40,194.60L498.90,194.60L502.30,195.30L505.70,196.40L509.10,197.50L512.60,198.70L516.00,199.80L519.40,201.00L522.90,202.60L526.30,204.20L530.10,206.00" stroke="#000000" stroke-width="1.0" fill="none" stroke-linejoin="round"/>
<rect x="480.23" y="205.23" width="2.94" height="2.94" fill="#000000"/>
<rect x="483.63" y="202.23" width="2.94" height="2.94" fill="#000000"/>
<rect x="487.13" y="197.23" width="2.94" height="2.94" fill="#000000"/>
<rect x="490.53" y="194.23" width="2.94" height="2.94" fill="#000000"/>
<rect x="493.93" y="193.13" width="2.94" height="2.94" fill="#000000"/>
<rect x="497.43" y="193.13" width="2.94" height="2.94" fill="#000000"/>
<rect x="500.83" y="193.83" width="2.94" height="2.94" fill="#000000"/>
<rect x="504.23" y="194.93" width="2.94" height="2.94" fill="#000000"/>
<rect x="507.63" y="196.03" width="2.94" height="2.94" fill="#000000"/>
<rect x="511.13" y="197.23" width="2.94" height="2.94" fill="#000000"/>
<rect x="514.53" y="198.33" width="2.94" height="2.94" fill="#000000"/>
<rect x="517.93" y="199.53" width="2.94" height="2.94" fill="#000000"/>
<rect x="521.43" y="201.13" width="2.94" height="2.94" fill="#000000"/>
<rect x="524.83" y="202.73" width="2.94" height="2.94" fill="#000000"/>
<rect x="528.63" y="204.53" width="2.94" height="2.94" fill="#000000"/>
<path d="M476.00,225.40L479.40,220.90L482.90,217.00L487.00,214.00L490.90,212.90L494.30,212.40L497.70,212.90L502.30,213.50L505.70,214.00L509.10,214.70L513.00,215.60L517.10,216.30L521.30,217.00L525.10,217.90L530.10,219.30" stroke="#ff00ff" stroke-width="1.0" fill="none" stroke-linejoin="round"/>
<circle cx="476.00" cy="225.40" r="1.60" fill="#ff00ff"/>
<circle cx="479.40" cy="220.90" r="1.60" fill="#ff00ff"/>
<circle cx="482.90" cy="217.00" r="1.60" fill="#ff00ff"/>
<circle cx="487.00" cy="214.00" r="1.60" fill="#ff00ff"/>
<circle cx="490.90" cy="212.90" r="1.60" fill="#ff00ff"/>
<circle cx="494.30" cy="212.40" r="1.60" fill="#ff00ff"/>
<circle cx="497.70" cy="212.90" r="1.60" fill="#ff00ff"/>
<circle cx="502.30" cy="213.50" r="1.60" fill="#ff00ff"/>
<circle cx="505.70" cy="214.00" r="1.60" fill="#ff00ff"/>
<circle cx="509.10" cy="214.70" r="1.60" fill="#ff00ff"/>
<circle cx="513.00" cy="215.60" r="1.60" fill="#ff00ff"/>
<circle cx="517.10" cy="216.30" r="1.60" fill="#ff00ff"/>
<circle cx="521.30" cy="217.00" r="1.60" fill="#ff00ff"/>
<circle cx="525.10" cy="217.90" r="1.60" fill="#ff00ff"/>
<circle cx="530.10" cy="219.30" r="1.60" fill="#ff00ff"/>
<path d="M464.00,245.00L469.70,241.40L474.30,237.80L478.70,236.50L483.60,235.60L487.70,235.30L492.60,234.50L497.60,234.00L502.50,233.50L507.40,233.20L512.30,233.20L516.40,232.90L521.30,232.90L525.40,233.20L530.30,234.00" stroke="#8000ff" stroke-width="1.0" fill="none" stroke-linejoin="round"/>
<path d="M464.00,243.24L465.76,246.28L462.24,246.28Z" fill="#8000ff"/>
<path d="M469.70,239.64L471.46,242.68L467.94,242.68Z" fill="#8000ff"/>
<path d="M474.30,236.04L476.06,239.08L472.54,239.08Z" fill="#8000ff"/>
<path d="M478.70,234.74L480.46,237.78L476.94,237.78Z" fill="#8000ff"/>
<path d="M483.60,233.84L485.36,236.88L481.84,236.88Z" fill="#8000ff"/>
<path d="M487.70,233.54L489.46,236.58L485.94,236.58Z" fill="#8000ff"/>
<path d="M492.60,232.74L494.36,235.78L490.84,235.78Z" fill="#8000ff"/>
<path d="M497.60,232.24L499.36,235.28L495.84,235.28Z" fill="#8000ff"/>
<path d="M502.50,231.74L504.26,234.78L500.74,234.78Z" fill="#8000ff"/>
<path d="M507.40,231.44L509.16,234.48L505.64,234.48Z" fill="#8000ff"/>
<path d="M512.30,231.44L514.06,234.48L510.54,234.48Z" fill="#8000ff"/>
<path d="M516.40,231.14L518.16,234.18L514.64,234.18Z" fill="#8000ff"/>
<path d="M521.30,231.14L523.06,234.18L519.54,234.18Z" fill="#8000ff"/>
<path d="M525.40,231.44L527.16,234.48L523.64,234.48Z" fill="#8000ff"/>
<path d="M530.30,232.24L532.06,235.28L528.54,235.28Z" fill="#8000ff"/>
<path d="M452.50,254.50L458.30,251.30L464.00,247.90L469.70,246.30L474.60,245.50L480.40,244.60L485.30,244.10L490.60,243.70L495.90,243.30L501.60,242.90L507.40,242.50L513.10,242.20L518.80,241.90L524.50,241.90L530.30,241.90" stroke="#808000" stroke-width="1.0" fill="none" stroke-linejoin="round"/>
<path d="M452.50,256.26L454.26,253.22L450.74,253.22Z" fill="#808000"/>
<path d="M458.30,253.06L460.06,250.02L456.54,250.02Z" fill="#808000"/>
<path d="M464.00,249.66L465.76,246.62L462.24,246.62Z" fill="#808000"/>
<path d="M469.70,248.06L471.46,245.02L467.94,245.02Z" fill="#808000"/>
<path d="M474.60,247.26L476.36,244.22L472.84,244.22Z" fill="#808000"/>
<path d="M480.40,246.36L482.16,243.32L478.64,243.32Z" fill="#808000"/>
<path d="M485.30,245.86L487.06,242.82L483.54,242.82Z" fill="#808000"/>
<path d="M490.60,245.46L492.36,242.42L488.84,242.42Z" fill="#808000"/>
<path d="M495.90,245.06L497.66,242.02L494.14,242.02Z" fill="#808000"/>
<path d="M501.60,244.66L503.36,241.62L499.84,241.62Z" fill="#808000"/>
<path d="M507.40,244.26L509.16,241.22L505.64,241.22Z" fill="#808000"/>
<path d="M513.10,243.96L514.86,240.92L511.34,240.92Z" fill="#808000"/>
<path d="M518.80,243.66L520.56,240.62L517.04,240.62Z" fill="#808000"/>
<path d="M524.50,243.66L526.26,240.62L522.74,240.62Z" fill="#808000"/>
<path d="M530.30,243.66L532.06,240.62L528.54,240.62Z" fill="#808000"/>
<path d="M440.90,262.60L447.10,257.70L452.90,254.90L459.40,251.90L465.90,250.30L472.00,249.70L478.00,249.50L484.00,249.50L490.00,249.50L496.00,249.50L502.00,249.50L508.00,249.50L514.00,249.50L520.00,249.50L525.00,249.50L530.10,249.50" stroke="#00c800" stroke-width="1.0" fill="none" stroke-linejoin="round"/>
<path d="M440.90,260.52L442.66,262.60L440.90,264.68L439.14,262.60Z" fill="#00b000"/>
<path d="M447.10,255.62L448.86,257.70L447.10,259.78L445.34,257.70Z" fill="#00b000"/>
<path d="M452.90,252.82L454.66,254.90L452.90,256.98L451.14,254.90Z" fill="#00b000"/>
<path d="M459.40,249.82L461.16,251.90L459.40,253.98L457.64,251.90Z" fill="#00b000"/>
<path d="M465.90,248.22L467.66,250.30L465.90,252.38L464.14,250.30Z" fill="#00b000"/>
<path d="M472.00,247.62L473.76,249.70L472.00,251.78L470.24,249.70Z" fill="#00b000"/>
<path d="M478.00,247.42L479.76,249.50L478.00,251.58L476.24,249.50Z" fill="#00b000"/>
<path d="M484.00,247.42L485.76,249.50L484.00,251.58L482.24,249.50Z" fill="#00b000"/>
<path d="M490.00,247.42L491.76,249.50L490.00,251.58L488.24,249.50Z" fill="#00b000"/>
<path d="M496.00,247.42L497.76,249.50L496.00,251.58L494.24,249.50Z" fill="#00b000"/>
<path d="M502.00,247.42L503.76,249.50L502.00,251.58L500.24,249.50Z" fill="#00b000"/>
<path d="M508.00,247.42L509.76,249.50L508.00,251.58L506.24,249.50Z" fill="#00b000"/>
<path d="M514.00,247.42L515.76,249.50L514.00,251.58L512.24,249.50Z" fill="#00b000"/>
<path d="M520.00,247.42L521.76,249.50L520.00,251.58L518.24,249.50Z" fill="#00b000"/>
<path d="M525.00,247.42L526.76,249.50L525.00,251.58L523.24,249.50Z" fill="#00b000"/>
<path d="M530.10,247.42L531.86,249.50L530.10,251.58L528.34,249.50Z" fill="#00b000"/>
<path d="M429.20,268.00L436.50,262.20L443.90,256.00L451.20,253.60L458.00,252.30L465.00,251.80L470.20,252.20L477.50,253.20L486.20,253.60L493.50,254.30L500.70,255.10L508.00,255.70L515.30,256.40L522.50,257.10L530.10,258.00" stroke="#3a3ab0" stroke-width="1.0" fill="none" stroke-linejoin="round"/>
<path d="M427.44,268.00L430.48,266.24L430.48,269.76Z" fill="#1a1a90"/>
<path d="M434.74,262.20L437.78,260.44L437.78,263.96Z" fill="#1a1a90"/>
<path d="M442.14,256.00L445.18,254.24L445.18,257.76Z" fill="#1a1a90"/>
<path d="M449.44,253.60L452.48,251.84L452.48,255.36Z" fill="#1a1a90"/>
<path d="M456.24,252.30L459.28,250.54L459.28,254.06Z" fill="#1a1a90"/>
<path d="M463.24,251.80L466.28,250.04L466.28,253.56Z" fill="#1a1a90"/>
<path d="M468.44,252.20L471.48,250.44L471.48,253.96Z" fill="#1a1a90"/>
<path d="M475.74,253.20L478.78,251.44L478.78,254.96Z" fill="#1a1a90"/>
<path d="M484.44,253.60L487.48,251.84L487.48,255.36Z" fill="#1a1a90"/>
<path d="M491.74,254.30L494.78,252.54L494.78,256.06Z" fill="#1a1a90"/>
<path d="M498.94,255.10L501.98,253.34L501.98,256.86Z" fill="#1a1a90"/>
<path d="M506.24,255.70L509.28,253.94L509.28,257.46Z" fill="#1a1a90"/>
<path d="M513.54,256.40L516.58,254.64L516.58,258.16Z" fill="#1a1a90"/>
<path d="M520.74,257.10L523.78,255.34L523.78,258.86Z" fill="#1a1a90"/>
<path d="M528.34,258.00L531.38,256.24L531.38,259.76Z" fill="#1a1a90"/>
<path d="M417.40,269.10L425.90,262.20L433.80,256.00L441.90,253.60L449.60,252.80L457.80,252.80L465.80,253.20L473.10,253.90L481.10,255.40L489.10,257.50L497.10,259.00L505.10,260.00L513.10,260.90L521.10,261.90L530.10,262.90" stroke="#a06060" stroke-width="1.0" fill="none" stroke-linejoin="round"/>
<path d="M419.16,269.10L416.12,267.34L416.12,270.86Z" fill="#904545"/>
<path d="M427.66,262.20L424.62,260.44L424.62,263.96Z" fill="#904545"/>
<path d="M435.56,256.00L432.52,254.24L432.52,257.76Z" fill="#904545"/>
<path d="M443.66,253.60L440.62,251.84L440.62,255.36Z" fill="#904545"/>
<path d="M451.36,252.80L448.32,251.04L448.32,254.56Z" fill="#904545"/>
<path d="M459.56,252.80L456.52,251.04L456.52,254.56Z" fill="#904545"/>
<path d="M467.56,253.20L464.52,251.44L464.52,254.96Z" fill="#904545"/>
<path d="M474.86,253.90L471.82,252.14L471.82,255.66Z" fill="#904545"/>
<path d="M482.86,255.40L479.82,253.64L479.82,257.16Z" fill="#904545"/>
<path d="M490.86,257.50L487.82,255.74L487.82,259.26Z" fill="#904545"/>
<path d="M498.86,259.00L495.82,257.24L495.82,260.76Z" fill="#904545"/>
<path d="M506.86,260.00L503.82,258.24L503.82,261.76Z" fill="#904545"/>
<path d="M514.86,260.90L511.82,259.14L511.82,262.66Z" fill="#904545"/>
<path d="M522.86,261.90L519.82,260.14L519.82,263.66Z" fill="#904545"/>
<path d="M531.86,262.90L528.82,261.14L528.82,264.66Z" fill="#904545"/>
<path d="M405.80,263.90L414.80,259.00L423.80,253.20L432.40,250.30L441.40,249.20L450.40,249.20L458.60,250.00L467.50,251.50L476.70,253.60L485.50,256.10L494.20,258.30L503.60,260.50L512.40,261.90L521.10,263.80L530.10,264.80" stroke="#4a86c0" stroke-width="1.0" fill="none" stroke-linejoin="round"/>
<circle cx="405.80" cy="263.90" r="1.60" fill="#1c5796"/>
<circle cx="414.80" cy="259.00" r="1.60" fill="#1c5796"/>
<circle cx="423.80" cy="253.20" r="1.60" fill="#1c5796"/>
<circle cx="432.40" cy="250.30" r="1.60" fill="#1c5796"/>
<circle cx="441.40" cy="249.20" r="1.60" fill="#1c5796"/>
<circle cx="450.40" cy="249.20" r="1.60" fill="#1c5796"/>
<circle cx="458.60" cy="250.00" r="1.60" fill="#1c5796"/>
<circle cx="467.50" cy="251.50" r="1.60" fill="#1c5796"/>
<circle cx="476.70" cy="253.60" r="1.60" fill="#1c5796"/>
<circle cx="485.50" cy="256.10" r="1.60" fill="#1c5796"/>
<circle cx="494.20" cy="258.30" r="1.60" fill="#1c5796"/>
<circle cx="503.60" cy="260.50" r="1.60" fill="#1c5796"/>
<circle cx="512.40" cy="261.90" r="1.60" fill="#1c5796"/>
<circle cx="521.10" cy="263.80" r="1.60" fill="#1c5796"/>
<circle cx="530.10" cy="264.80" r="1.60" fill="#1c5796"/>
<path d="M397.00,164.00H412.00" stroke="#000000" stroke-width="1.3" opacity="0.6"/>
<rect x="403.07" y="162.57" width="2.85" height="2.85" fill="#000000"/>
<text transform="translate(413.90,166.40) scale(1,1.1)" font-size="6.4">-10</text>
<path d="M429.00,164.00H444.00" stroke="#ff00ff" stroke-width="1.3" opacity="0.6"/>
<circle cx="436.50" cy="164.00" r="1.55" fill="#ff00ff"/>
<text transform="translate(445.90,166.40) scale(1,1.1)" font-size="6.4">-20</text>
<path d="M397.00,172.30H412.00" stroke="#8000ff" stroke-width="1.3" opacity="0.6"/>
<path d="M404.50,170.59L406.20,173.54L402.80,173.54Z" fill="#8000ff"/>
<text transform="translate(413.90,174.70) scale(1,1.1)" font-size="6.4">-40</text>
<path d="M429.00,172.30H444.00" stroke="#808000" stroke-width="1.3" opacity="0.6"/>
<path d="M436.50,174.01L438.20,171.06L434.80,171.06Z" fill="#808000"/>
<text transform="translate(445.90,174.70) scale(1,1.1)" font-size="6.4">-60</text>
<path d="M397.00,180.60H412.00" stroke="#00c800" stroke-width="1.3" opacity="0.6"/>
<path d="M404.50,178.59L406.20,180.60L404.50,182.61L402.80,180.60Z" fill="#00b000"/>
<text transform="translate(413.90,183.00) scale(1,1.1)" font-size="6.4">-80</text>
<path d="M429.00,180.60H444.00" stroke="#3a3ab0" stroke-width="1.3" opacity="0.6"/>
<path d="M434.80,180.60L437.74,178.89L437.74,182.31Z" fill="#1a1a90"/>
<text transform="translate(445.90,183.00) scale(1,1.1)" font-size="6.4">-100</text>
<path d="M397.00,188.70H412.00" stroke="#a06060" stroke-width="1.3" opacity="0.6"/>
<path d="M406.20,188.70L403.26,186.99L403.26,190.41Z" fill="#904545"/>
<text transform="translate(413.90,191.10) scale(1,1.1)" font-size="6.4">-120</text>
<path d="M429.00,188.70H444.00" stroke="#4a86c0" stroke-width="1.3" opacity="0.6"/>
<circle cx="436.50" cy="188.70" r="1.55" fill="#1c5796"/>
<text transform="translate(445.90,191.10) scale(1,1.1)" font-size="6.4">-140</text>
<rect x="388.50" y="156.60" width="154.10" height="122.20" fill="none" stroke="#2a2a2a" stroke-width="1.15"/>
<path d="M388.50,278.80v2.4M414.18,278.80v2.4M439.87,278.80v2.4M465.55,278.80v2.4M491.23,278.80v2.4M516.92,278.80v2.4M542.60,278.80v2.4M388.50,278.80v1.6M401.34,278.80v1.6M414.18,278.80v1.6M427.02,278.80v1.6M439.87,278.80v1.6M452.71,278.80v1.6M465.55,278.80v1.6M478.39,278.80v1.6M491.23,278.80v1.6M504.08,278.80v1.6M516.92,278.80v1.6M529.76,278.80v1.6M542.60,278.80v1.6M388.50,273.25h-2.4M388.50,251.03h-2.4M388.50,228.81h-2.4M388.50,206.59h-2.4M388.50,184.37h-2.4M388.50,162.15h-2.4M388.50,273.25h-1.6M388.50,262.14h-1.6M388.50,251.03h-1.6M388.50,239.92h-1.6M388.50,228.81h-1.6M388.50,217.70h-1.6M388.50,206.59h-1.6M388.50,195.48h-1.6M388.50,184.37h-1.6M388.50,173.26h-1.6M388.50,162.15h-1.6" stroke="#111" stroke-width="1.1" fill="none"/>
<text transform="translate(388.50,288.10) scale(1,1.08)" font-size="6.4" text-anchor="middle">60</text>
<text transform="translate(414.18,288.10) scale(1,1.08)" font-size="6.4" text-anchor="middle">80</text>
<text transform="translate(439.87,288.10) scale(1,1.08)" font-size="6.4" text-anchor="middle">100</text>
<text transform="translate(465.55,288.10) scale(1,1.08)" font-size="6.4" text-anchor="middle">120</text>
<text transform="translate(491.23,288.10) scale(1,1.08)" font-size="6.4" text-anchor="middle">140</text>
<text transform="translate(516.92,288.10) scale(1,1.08)" font-size="6.4" text-anchor="middle">160</text>
<text transform="translate(542.60,288.10) scale(1,1.08)" font-size="6.4" text-anchor="middle">180</text>
<text transform="translate(384.70,274.85) scale(1,1.08)" font-size="6.4" text-anchor="end">-2</text>
<text transform="translate(384.70,252.63) scale(1,1.08)" font-size="6.4" text-anchor="end">0</text>
<text transform="translate(384.70,230.41) scale(1,1.08)" font-size="6.4" text-anchor="end">2</text>
<text transform="translate(384.70,208.19) scale(1,1.08)" font-size="6.4" text-anchor="end">4</text>
<text transform="translate(384.70,185.97) scale(1,1.08)" font-size="6.4" text-anchor="end">6</text>
<text transform="translate(384.70,163.75) scale(1,1.08)" font-size="6.4" text-anchor="end">8</text>
<text transform="translate(465.55,298.90) scale(1,1.1)" font-size="6.65" text-anchor="middle">Y position/mm</text>
<text transform="translate(373.00,220.50) rotate(-90) scale(1,1.1)" font-size="7.0" text-anchor="middle">Radial velocity/m·s<tspan dy="-2.6" font-size="4.6">-1</tspan></text>
<text x="539.60" y="273.20" font-size="13.1" font-weight="bold" text-anchor="end">(f)</text>
</g>
</svg>
</body></html>
